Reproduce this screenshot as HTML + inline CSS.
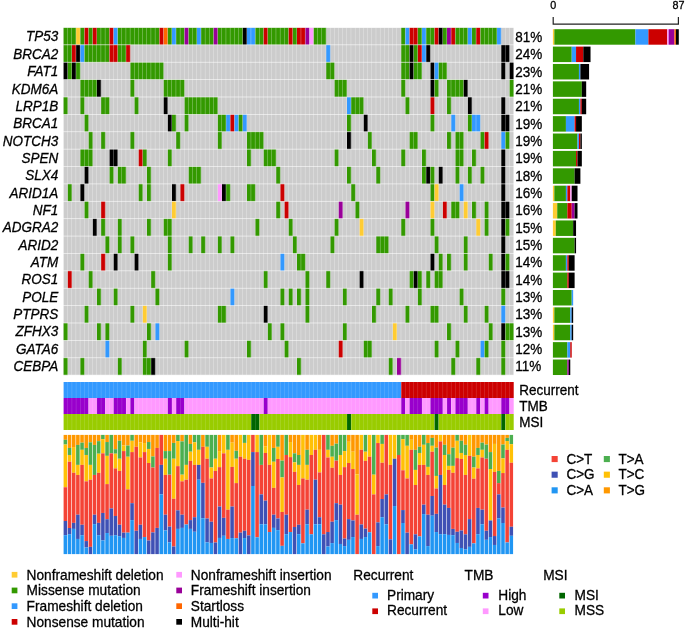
<!DOCTYPE html>
<html><head><meta charset="utf-8"><title>Oncoplot</title><style>html,body{margin:0;padding:0;background:#fff;}svg{display:block;}text{font-family:'Liberation Sans', Arial, Helvetica, sans-serif;fill:#000;stroke:#000;stroke-width:0.28px;}</style></head><body>
<svg width="685" height="628" viewBox="0 0 685 628">
<rect width="685" height="628" fill="#fff"/>
<g id="grid"><rect x="63.6" y="27.45" width="450.1" height="347.7" fill="#CCCCCC"/><rect x="63.6" y="27.45" width="12.5" height="17.39" fill="#339900"/><rect x="76.1" y="27.45" width="4.17" height="17.39" fill="#FFCC33"/><rect x="80.27" y="27.45" width="4.17" height="17.39" fill="#339900"/><rect x="84.44" y="27.45" width="4.17" height="17.39" fill="#CC0000"/><rect x="88.61" y="27.45" width="4.17" height="17.39" fill="#339900"/><rect x="92.77" y="27.45" width="4.17" height="17.39" fill="#CC0000"/><rect x="96.94" y="27.45" width="12.5" height="17.39" fill="#339900"/><rect x="109.44" y="27.45" width="4.17" height="17.39" fill="#CC0000"/><rect x="113.61" y="27.45" width="4.17" height="17.39" fill="#3399FF"/><rect x="117.78" y="27.45" width="41.68" height="17.39" fill="#339900"/><rect x="159.45" y="27.45" width="4.17" height="17.39" fill="#CC0000"/><rect x="163.62" y="27.45" width="4.17" height="17.39" fill="#FF6600"/><rect x="167.79" y="27.45" width="4.17" height="17.39" fill="#339900"/><rect x="171.96" y="27.45" width="4.17" height="17.39" fill="#3399FF"/><rect x="176.12" y="27.45" width="8.34" height="17.39" fill="#339900"/><rect x="184.46" y="27.45" width="4.17" height="17.39" fill="#990099"/><rect x="188.63" y="27.45" width="8.34" height="17.39" fill="#339900"/><rect x="196.96" y="27.45" width="4.17" height="17.39" fill="#3399FF"/><rect x="201.13" y="27.45" width="12.5" height="17.39" fill="#339900"/><rect x="213.63" y="27.45" width="4.17" height="17.39" fill="#990099"/><rect x="217.8" y="27.45" width="25.01" height="17.39" fill="#339900"/><rect x="242.81" y="27.45" width="4.17" height="17.39" fill="#000000"/><rect x="246.97" y="27.45" width="8.34" height="17.39" fill="#3399FF"/><rect x="255.31" y="27.45" width="8.34" height="17.39" fill="#339900"/><rect x="263.64" y="27.45" width="4.17" height="17.39" fill="#CC0000"/><rect x="267.81" y="27.45" width="20.84" height="17.39" fill="#339900"/><rect x="288.65" y="27.45" width="4.17" height="17.39" fill="#CC0000"/><rect x="292.82" y="27.45" width="4.17" height="17.39" fill="#339900"/><rect x="296.99" y="27.45" width="8.34" height="17.39" fill="#CC0000"/><rect x="305.32" y="27.45" width="4.17" height="17.39" fill="#990099"/><rect x="309.49" y="27.45" width="4.17" height="17.39" fill="#FF99FF"/><rect x="313.66" y="27.45" width="12.5" height="17.39" fill="#339900"/><rect x="401.18" y="27.45" width="4.17" height="17.39" fill="#339900"/><rect x="405.34" y="27.45" width="4.17" height="17.39" fill="#3399FF"/><rect x="409.51" y="27.45" width="8.34" height="17.39" fill="#CC0000"/><rect x="417.85" y="27.45" width="4.17" height="17.39" fill="#339900"/><rect x="422.01" y="27.45" width="4.17" height="17.39" fill="#3399FF"/><rect x="426.18" y="27.45" width="8.34" height="17.39" fill="#339900"/><rect x="434.52" y="27.45" width="4.17" height="17.39" fill="#CC0000"/><rect x="438.68" y="27.45" width="4.17" height="17.39" fill="#000000"/><rect x="442.85" y="27.45" width="4.17" height="17.39" fill="#339900"/><rect x="447.02" y="27.45" width="4.17" height="17.39" fill="#990099"/><rect x="451.19" y="27.45" width="4.17" height="17.39" fill="#CC0000"/><rect x="455.35" y="27.45" width="12.5" height="17.39" fill="#339900"/><rect x="467.86" y="27.45" width="4.17" height="17.39" fill="#3399FF"/><rect x="472.02" y="27.45" width="4.17" height="17.39" fill="#339900"/><rect x="476.19" y="27.45" width="4.17" height="17.39" fill="#CC0000"/><rect x="480.36" y="27.45" width="16.67" height="17.39" fill="#339900"/><rect x="497.03" y="27.45" width="4.17" height="17.39" fill="#3399FF"/><rect x="63.6" y="44.84" width="8.34" height="17.39" fill="#339900"/><rect x="71.94" y="44.84" width="4.17" height="17.39" fill="#CC0000"/><rect x="76.1" y="44.84" width="4.17" height="17.39" fill="#000000"/><rect x="80.27" y="44.84" width="4.17" height="17.39" fill="#3399FF"/><rect x="84.44" y="44.84" width="25.01" height="17.39" fill="#339900"/><rect x="109.44" y="44.84" width="8.34" height="17.39" fill="#CC0000"/><rect x="117.78" y="44.84" width="8.34" height="17.39" fill="#339900"/><rect x="126.11" y="44.84" width="4.17" height="17.39" fill="#CC0000"/><rect x="326.16" y="44.84" width="4.17" height="17.39" fill="#3399FF"/><rect x="401.18" y="44.84" width="8.34" height="17.39" fill="#339900"/><rect x="409.51" y="44.84" width="4.17" height="17.39" fill="#000000"/><rect x="413.68" y="44.84" width="4.17" height="17.39" fill="#339900"/><rect x="417.85" y="44.84" width="4.17" height="17.39" fill="#CC0000"/><rect x="422.01" y="44.84" width="4.17" height="17.39" fill="#3399FF"/><rect x="426.18" y="44.84" width="4.17" height="17.39" fill="#000000"/><rect x="501.2" y="44.84" width="8.34" height="17.39" fill="#000000"/><rect x="63.6" y="62.22" width="4.17" height="17.39" fill="#000000"/><rect x="67.77" y="62.22" width="4.17" height="17.39" fill="#339900"/><rect x="71.94" y="62.22" width="4.17" height="17.39" fill="#000000"/><rect x="76.1" y="62.22" width="4.17" height="17.39" fill="#339900"/><rect x="130.28" y="62.22" width="33.34" height="17.39" fill="#339900"/><rect x="326.16" y="62.22" width="8.34" height="17.39" fill="#339900"/><rect x="401.18" y="62.22" width="8.34" height="17.39" fill="#339900"/><rect x="409.51" y="62.22" width="4.17" height="17.39" fill="#000000"/><rect x="413.68" y="62.22" width="8.34" height="17.39" fill="#339900"/><rect x="430.35" y="62.22" width="4.17" height="17.39" fill="#000000"/><rect x="434.52" y="62.22" width="4.17" height="17.39" fill="#3399FF"/><rect x="438.68" y="62.22" width="8.34" height="17.39" fill="#339900"/><rect x="501.2" y="62.22" width="4.17" height="17.39" fill="#000000"/><rect x="509.53" y="62.22" width="4.17" height="17.39" fill="#000000"/><rect x="80.27" y="79.61" width="16.67" height="17.39" fill="#339900"/><rect x="96.94" y="79.61" width="4.17" height="17.39" fill="#000000"/><rect x="130.28" y="79.61" width="4.17" height="17.39" fill="#339900"/><rect x="163.62" y="79.61" width="20.84" height="17.39" fill="#339900"/><rect x="334.49" y="79.61" width="12.5" height="17.39" fill="#339900"/><rect x="401.18" y="79.61" width="4.17" height="17.39" fill="#339900"/><rect x="430.35" y="79.61" width="4.17" height="17.39" fill="#000000"/><rect x="434.52" y="79.61" width="4.17" height="17.39" fill="#339900"/><rect x="447.02" y="79.61" width="16.67" height="17.39" fill="#339900"/><rect x="463.69" y="79.61" width="4.17" height="17.39" fill="#000000"/><rect x="509.53" y="79.61" width="4.17" height="17.39" fill="#339900"/><rect x="63.6" y="96.99" width="4.17" height="17.39" fill="#339900"/><rect x="80.27" y="96.99" width="4.17" height="17.39" fill="#339900"/><rect x="101.11" y="96.99" width="8.34" height="17.39" fill="#339900"/><rect x="134.45" y="96.99" width="4.17" height="17.39" fill="#339900"/><rect x="163.62" y="96.99" width="4.17" height="17.39" fill="#000000"/><rect x="184.46" y="96.99" width="33.34" height="17.39" fill="#339900"/><rect x="347" y="96.99" width="4.17" height="17.39" fill="#3399FF"/><rect x="351.16" y="96.99" width="12.5" height="17.39" fill="#339900"/><rect x="405.34" y="96.99" width="4.17" height="17.39" fill="#339900"/><rect x="430.35" y="96.99" width="4.17" height="17.39" fill="#CC0000"/><rect x="447.02" y="96.99" width="4.17" height="17.39" fill="#339900"/><rect x="467.86" y="96.99" width="4.17" height="17.39" fill="#000000"/><rect x="501.2" y="96.99" width="4.17" height="17.39" fill="#000000"/><rect x="84.44" y="114.38" width="4.17" height="17.39" fill="#339900"/><rect x="167.79" y="114.38" width="4.17" height="17.39" fill="#000000"/><rect x="171.96" y="114.38" width="4.17" height="17.39" fill="#339900"/><rect x="184.46" y="114.38" width="4.17" height="17.39" fill="#339900"/><rect x="217.8" y="114.38" width="8.34" height="17.39" fill="#339900"/><rect x="226.14" y="114.38" width="4.17" height="17.39" fill="#3399FF"/><rect x="230.3" y="114.38" width="4.17" height="17.39" fill="#CC0000"/><rect x="234.47" y="114.38" width="4.17" height="17.39" fill="#3399FF"/><rect x="238.64" y="114.38" width="4.17" height="17.39" fill="#339900"/><rect x="242.81" y="114.38" width="4.17" height="17.39" fill="#3399FF"/><rect x="347" y="114.38" width="4.17" height="17.39" fill="#339900"/><rect x="363.67" y="114.38" width="4.17" height="17.39" fill="#000000"/><rect x="430.35" y="114.38" width="4.17" height="17.39" fill="#339900"/><rect x="451.19" y="114.38" width="4.17" height="17.39" fill="#3399FF"/><rect x="467.86" y="114.38" width="4.17" height="17.39" fill="#339900"/><rect x="472.02" y="114.38" width="8.34" height="17.39" fill="#3399FF"/><rect x="501.2" y="114.38" width="8.34" height="17.39" fill="#000000"/><rect x="88.61" y="131.76" width="4.17" height="17.39" fill="#339900"/><rect x="101.11" y="131.76" width="4.17" height="17.39" fill="#339900"/><rect x="130.28" y="131.76" width="4.17" height="17.39" fill="#339900"/><rect x="176.12" y="131.76" width="4.17" height="17.39" fill="#339900"/><rect x="217.8" y="131.76" width="4.17" height="17.39" fill="#339900"/><rect x="246.97" y="131.76" width="16.67" height="17.39" fill="#339900"/><rect x="347" y="131.76" width="4.17" height="17.39" fill="#000000"/><rect x="367.83" y="131.76" width="4.17" height="17.39" fill="#339900"/><rect x="409.51" y="131.76" width="8.34" height="17.39" fill="#339900"/><rect x="447.02" y="131.76" width="4.17" height="17.39" fill="#339900"/><rect x="455.35" y="131.76" width="8.34" height="17.39" fill="#339900"/><rect x="480.36" y="131.76" width="4.17" height="17.39" fill="#339900"/><rect x="484.53" y="131.76" width="4.17" height="17.39" fill="#CC0000"/><rect x="501.2" y="131.76" width="4.17" height="17.39" fill="#3399FF"/><rect x="505.36" y="131.76" width="4.17" height="17.39" fill="#339900"/><rect x="80.27" y="149.15" width="12.5" height="17.39" fill="#339900"/><rect x="109.44" y="149.15" width="8.34" height="17.39" fill="#000000"/><rect x="138.62" y="149.15" width="4.17" height="17.39" fill="#CC0000"/><rect x="142.78" y="149.15" width="4.17" height="17.39" fill="#339900"/><rect x="167.79" y="149.15" width="4.17" height="17.39" fill="#339900"/><rect x="246.97" y="149.15" width="4.17" height="17.39" fill="#339900"/><rect x="263.64" y="149.15" width="12.5" height="17.39" fill="#339900"/><rect x="334.49" y="149.15" width="4.17" height="17.39" fill="#339900"/><rect x="372" y="149.15" width="4.17" height="17.39" fill="#339900"/><rect x="401.18" y="149.15" width="4.17" height="17.39" fill="#339900"/><rect x="422.01" y="149.15" width="4.17" height="17.39" fill="#339900"/><rect x="455.35" y="149.15" width="8.34" height="17.39" fill="#339900"/><rect x="472.02" y="149.15" width="4.17" height="17.39" fill="#339900"/><rect x="501.2" y="149.15" width="4.17" height="17.39" fill="#000000"/><rect x="84.44" y="166.53" width="4.17" height="17.39" fill="#000000"/><rect x="109.44" y="166.53" width="4.17" height="17.39" fill="#339900"/><rect x="117.78" y="166.53" width="8.34" height="17.39" fill="#339900"/><rect x="146.95" y="166.53" width="4.17" height="17.39" fill="#339900"/><rect x="188.63" y="166.53" width="12.5" height="17.39" fill="#339900"/><rect x="276.15" y="166.53" width="4.17" height="17.39" fill="#339900"/><rect x="347" y="166.53" width="4.17" height="17.39" fill="#339900"/><rect x="376.17" y="166.53" width="4.17" height="17.39" fill="#339900"/><rect x="422.01" y="166.53" width="4.17" height="17.39" fill="#339900"/><rect x="426.18" y="166.53" width="4.17" height="17.39" fill="#000000"/><rect x="430.35" y="166.53" width="4.17" height="17.39" fill="#339900"/><rect x="438.68" y="166.53" width="4.17" height="17.39" fill="#000000"/><rect x="455.35" y="166.53" width="4.17" height="17.39" fill="#339900"/><rect x="467.86" y="166.53" width="4.17" height="17.39" fill="#339900"/><rect x="480.36" y="166.53" width="4.17" height="17.39" fill="#339900"/><rect x="501.2" y="166.53" width="4.17" height="17.39" fill="#000000"/><rect x="67.77" y="183.91" width="4.17" height="17.39" fill="#339900"/><rect x="80.27" y="183.91" width="4.17" height="17.39" fill="#000000"/><rect x="138.62" y="183.91" width="4.17" height="17.39" fill="#339900"/><rect x="146.95" y="183.91" width="4.17" height="17.39" fill="#339900"/><rect x="171.96" y="183.91" width="4.17" height="17.39" fill="#000000"/><rect x="180.29" y="183.91" width="4.17" height="17.39" fill="#CC0000"/><rect x="217.8" y="183.91" width="4.17" height="17.39" fill="#FF99FF"/><rect x="221.97" y="183.91" width="4.17" height="17.39" fill="#000000"/><rect x="226.14" y="183.91" width="4.17" height="17.39" fill="#339900"/><rect x="246.97" y="183.91" width="8.34" height="17.39" fill="#339900"/><rect x="280.31" y="183.91" width="4.17" height="17.39" fill="#CC0000"/><rect x="351.16" y="183.91" width="4.17" height="17.39" fill="#339900"/><rect x="430.35" y="183.91" width="4.17" height="17.39" fill="#339900"/><rect x="434.52" y="183.91" width="4.17" height="17.39" fill="#FFCC33"/><rect x="459.52" y="183.91" width="4.17" height="17.39" fill="#3399FF"/><rect x="501.2" y="183.91" width="4.17" height="17.39" fill="#000000"/><rect x="84.44" y="201.3" width="4.17" height="17.39" fill="#339900"/><rect x="101.11" y="201.3" width="4.17" height="17.39" fill="#CC0000"/><rect x="171.96" y="201.3" width="4.17" height="17.39" fill="#FFCC33"/><rect x="276.15" y="201.3" width="4.17" height="17.39" fill="#339900"/><rect x="284.48" y="201.3" width="4.17" height="17.39" fill="#CC0000"/><rect x="338.66" y="201.3" width="4.17" height="17.39" fill="#990099"/><rect x="355.33" y="201.3" width="4.17" height="17.39" fill="#339900"/><rect x="405.34" y="201.3" width="4.17" height="17.39" fill="#990099"/><rect x="430.35" y="201.3" width="4.17" height="17.39" fill="#FFCC33"/><rect x="442.85" y="201.3" width="4.17" height="17.39" fill="#CC0000"/><rect x="451.19" y="201.3" width="8.34" height="17.39" fill="#339900"/><rect x="463.69" y="201.3" width="4.17" height="17.39" fill="#FFCC33"/><rect x="472.02" y="201.3" width="4.17" height="17.39" fill="#339900"/><rect x="484.53" y="201.3" width="4.17" height="17.39" fill="#339900"/><rect x="501.2" y="201.3" width="8.34" height="17.39" fill="#000000"/><rect x="92.77" y="218.69" width="4.17" height="17.39" fill="#000000"/><rect x="101.11" y="218.69" width="4.17" height="17.39" fill="#339900"/><rect x="117.78" y="218.69" width="4.17" height="17.39" fill="#339900"/><rect x="146.95" y="218.69" width="4.17" height="17.39" fill="#339900"/><rect x="163.62" y="218.69" width="8.34" height="17.39" fill="#339900"/><rect x="255.31" y="218.69" width="4.17" height="17.39" fill="#339900"/><rect x="288.65" y="218.69" width="4.17" height="17.39" fill="#339900"/><rect x="334.49" y="218.69" width="4.17" height="17.39" fill="#339900"/><rect x="359.5" y="218.69" width="4.17" height="17.39" fill="#FFCC33"/><rect x="401.18" y="218.69" width="4.17" height="17.39" fill="#339900"/><rect x="430.35" y="218.69" width="4.17" height="17.39" fill="#339900"/><rect x="476.19" y="218.69" width="4.17" height="17.39" fill="#FFCC33"/><rect x="484.53" y="218.69" width="4.17" height="17.39" fill="#339900"/><rect x="501.2" y="218.69" width="4.17" height="17.39" fill="#000000"/><rect x="505.36" y="218.69" width="4.17" height="17.39" fill="#339900"/><rect x="105.28" y="236.07" width="4.17" height="17.39" fill="#339900"/><rect x="117.78" y="236.07" width="4.17" height="17.39" fill="#339900"/><rect x="130.28" y="236.07" width="4.17" height="17.39" fill="#339900"/><rect x="167.79" y="236.07" width="4.17" height="17.39" fill="#339900"/><rect x="188.63" y="236.07" width="4.17" height="17.39" fill="#339900"/><rect x="201.13" y="236.07" width="4.17" height="17.39" fill="#339900"/><rect x="217.8" y="236.07" width="4.17" height="17.39" fill="#339900"/><rect x="230.3" y="236.07" width="4.17" height="17.39" fill="#339900"/><rect x="292.82" y="236.07" width="4.17" height="17.39" fill="#339900"/><rect x="330.33" y="236.07" width="4.17" height="17.39" fill="#339900"/><rect x="376.17" y="236.07" width="12.5" height="17.39" fill="#339900"/><rect x="434.52" y="236.07" width="4.17" height="17.39" fill="#339900"/><rect x="463.69" y="236.07" width="4.17" height="17.39" fill="#339900"/><rect x="501.2" y="236.07" width="4.17" height="17.39" fill="#000000"/><rect x="80.27" y="253.46" width="4.17" height="17.39" fill="#339900"/><rect x="101.11" y="253.46" width="4.17" height="17.39" fill="#CC0000"/><rect x="113.61" y="253.46" width="4.17" height="17.39" fill="#000000"/><rect x="134.45" y="253.46" width="4.17" height="17.39" fill="#000000"/><rect x="167.79" y="253.46" width="4.17" height="17.39" fill="#339900"/><rect x="280.31" y="253.46" width="4.17" height="17.39" fill="#3399FF"/><rect x="296.99" y="253.46" width="8.34" height="17.39" fill="#339900"/><rect x="430.35" y="253.46" width="4.17" height="17.39" fill="#000000"/><rect x="438.68" y="253.46" width="4.17" height="17.39" fill="#339900"/><rect x="447.02" y="253.46" width="4.17" height="17.39" fill="#339900"/><rect x="463.69" y="253.46" width="4.17" height="17.39" fill="#339900"/><rect x="488.69" y="253.46" width="4.17" height="17.39" fill="#339900"/><rect x="501.2" y="253.46" width="4.17" height="17.39" fill="#000000"/><rect x="505.36" y="253.46" width="4.17" height="17.39" fill="#339900"/><rect x="67.77" y="270.84" width="4.17" height="17.39" fill="#CC0000"/><rect x="88.61" y="270.84" width="4.17" height="17.39" fill="#339900"/><rect x="151.12" y="270.84" width="4.17" height="17.39" fill="#339900"/><rect x="263.64" y="270.84" width="4.17" height="17.39" fill="#339900"/><rect x="305.32" y="270.84" width="4.17" height="17.39" fill="#339900"/><rect x="326.16" y="270.84" width="4.17" height="17.39" fill="#339900"/><rect x="359.5" y="270.84" width="4.17" height="17.39" fill="#000000"/><rect x="409.51" y="270.84" width="4.17" height="17.39" fill="#339900"/><rect x="413.68" y="270.84" width="4.17" height="17.39" fill="#000000"/><rect x="417.85" y="270.84" width="4.17" height="17.39" fill="#339900"/><rect x="426.18" y="270.84" width="4.17" height="17.39" fill="#339900"/><rect x="434.52" y="270.84" width="8.34" height="17.39" fill="#339900"/><rect x="501.2" y="270.84" width="8.34" height="17.39" fill="#000000"/><rect x="96.94" y="288.23" width="4.17" height="17.39" fill="#339900"/><rect x="113.61" y="288.23" width="4.17" height="17.39" fill="#339900"/><rect x="155.29" y="288.23" width="4.17" height="17.39" fill="#339900"/><rect x="230.3" y="288.23" width="4.17" height="17.39" fill="#3399FF"/><rect x="280.31" y="288.23" width="4.17" height="17.39" fill="#339900"/><rect x="288.65" y="288.23" width="4.17" height="17.39" fill="#339900"/><rect x="296.99" y="288.23" width="4.17" height="17.39" fill="#339900"/><rect x="305.32" y="288.23" width="4.17" height="17.39" fill="#339900"/><rect x="342.83" y="288.23" width="4.17" height="17.39" fill="#339900"/><rect x="376.17" y="288.23" width="4.17" height="17.39" fill="#339900"/><rect x="388.67" y="288.23" width="4.17" height="17.39" fill="#339900"/><rect x="417.85" y="288.23" width="4.17" height="17.39" fill="#339900"/><rect x="459.52" y="288.23" width="4.17" height="17.39" fill="#339900"/><rect x="501.2" y="288.23" width="4.17" height="17.39" fill="#339900"/><rect x="84.44" y="305.61" width="4.17" height="17.39" fill="#339900"/><rect x="130.28" y="305.61" width="4.17" height="17.39" fill="#339900"/><rect x="142.78" y="305.61" width="4.17" height="17.39" fill="#FFCC33"/><rect x="217.8" y="305.61" width="8.34" height="17.39" fill="#339900"/><rect x="263.64" y="305.61" width="4.17" height="17.39" fill="#000000"/><rect x="305.32" y="305.61" width="4.17" height="17.39" fill="#339900"/><rect x="372" y="305.61" width="4.17" height="17.39" fill="#339900"/><rect x="405.34" y="305.61" width="4.17" height="17.39" fill="#339900"/><rect x="430.35" y="305.61" width="8.34" height="17.39" fill="#339900"/><rect x="463.69" y="305.61" width="4.17" height="17.39" fill="#339900"/><rect x="484.53" y="305.61" width="4.17" height="17.39" fill="#339900"/><rect x="501.2" y="305.61" width="4.17" height="17.39" fill="#3399FF"/><rect x="63.6" y="323" width="4.17" height="17.39" fill="#339900"/><rect x="96.94" y="323" width="4.17" height="17.39" fill="#339900"/><rect x="105.28" y="323" width="4.17" height="17.39" fill="#339900"/><rect x="146.95" y="323" width="4.17" height="17.39" fill="#339900"/><rect x="155.29" y="323" width="4.17" height="17.39" fill="#3399FF"/><rect x="267.81" y="323" width="4.17" height="17.39" fill="#339900"/><rect x="280.31" y="323" width="4.17" height="17.39" fill="#339900"/><rect x="342.83" y="323" width="4.17" height="17.39" fill="#339900"/><rect x="392.84" y="323" width="4.17" height="17.39" fill="#FFCC33"/><rect x="447.02" y="323" width="4.17" height="17.39" fill="#339900"/><rect x="488.69" y="323" width="4.17" height="17.39" fill="#339900"/><rect x="501.2" y="323" width="4.17" height="17.39" fill="#000000"/><rect x="505.36" y="323" width="8.34" height="17.39" fill="#339900"/><rect x="105.28" y="340.38" width="4.17" height="17.39" fill="#3399FF"/><rect x="142.78" y="340.38" width="4.17" height="17.39" fill="#339900"/><rect x="184.46" y="340.38" width="4.17" height="17.39" fill="#339900"/><rect x="246.97" y="340.38" width="4.17" height="17.39" fill="#339900"/><rect x="284.48" y="340.38" width="4.17" height="17.39" fill="#339900"/><rect x="338.66" y="340.38" width="4.17" height="17.39" fill="#CC0000"/><rect x="363.67" y="340.38" width="8.34" height="17.39" fill="#339900"/><rect x="434.52" y="340.38" width="4.17" height="17.39" fill="#339900"/><rect x="455.35" y="340.38" width="4.17" height="17.39" fill="#339900"/><rect x="480.36" y="340.38" width="4.17" height="17.39" fill="#3399FF"/><rect x="484.53" y="340.38" width="4.17" height="17.39" fill="#339900"/><rect x="501.2" y="340.38" width="4.17" height="17.39" fill="#339900"/><rect x="63.6" y="357.77" width="4.17" height="17.39" fill="#339900"/><rect x="80.27" y="357.77" width="4.17" height="17.39" fill="#339900"/><rect x="117.78" y="357.77" width="4.17" height="17.39" fill="#339900"/><rect x="142.78" y="357.77" width="8.34" height="17.39" fill="#339900"/><rect x="151.12" y="357.77" width="4.17" height="17.39" fill="#000000"/><rect x="296.99" y="357.77" width="4.17" height="17.39" fill="#339900"/><rect x="388.67" y="357.77" width="4.17" height="17.39" fill="#339900"/><rect x="397.01" y="357.77" width="4.17" height="17.39" fill="#990099"/><rect x="451.19" y="357.77" width="4.17" height="17.39" fill="#339900"/><rect x="476.19" y="357.77" width="4.17" height="17.39" fill="#339900"/><rect x="501.2" y="357.77" width="4.17" height="17.39" fill="#339900"/><rect x="67.39" y="27.45" width="0.38" height="347.7" fill="#fff" fill-opacity="0.7"/><rect x="71.56" y="27.45" width="0.38" height="347.7" fill="#fff" fill-opacity="0.7"/><rect x="75.72" y="27.45" width="0.38" height="347.7" fill="#fff" fill-opacity="0.7"/><rect x="79.89" y="27.45" width="0.38" height="347.7" fill="#fff" fill-opacity="0.7"/><rect x="84.06" y="27.45" width="0.38" height="347.7" fill="#fff" fill-opacity="0.7"/><rect x="88.23" y="27.45" width="0.38" height="347.7" fill="#fff" fill-opacity="0.7"/><rect x="92.39" y="27.45" width="0.38" height="347.7" fill="#fff" fill-opacity="0.7"/><rect x="96.56" y="27.45" width="0.38" height="347.7" fill="#fff" fill-opacity="0.7"/><rect x="100.73" y="27.45" width="0.38" height="347.7" fill="#fff" fill-opacity="0.7"/><rect x="104.9" y="27.45" width="0.38" height="347.7" fill="#fff" fill-opacity="0.7"/><rect x="109.06" y="27.45" width="0.38" height="347.7" fill="#fff" fill-opacity="0.7"/><rect x="113.23" y="27.45" width="0.38" height="347.7" fill="#fff" fill-opacity="0.7"/><rect x="117.4" y="27.45" width="0.38" height="347.7" fill="#fff" fill-opacity="0.7"/><rect x="121.57" y="27.45" width="0.38" height="347.7" fill="#fff" fill-opacity="0.7"/><rect x="125.73" y="27.45" width="0.38" height="347.7" fill="#fff" fill-opacity="0.7"/><rect x="129.9" y="27.45" width="0.38" height="347.7" fill="#fff" fill-opacity="0.7"/><rect x="134.07" y="27.45" width="0.38" height="347.7" fill="#fff" fill-opacity="0.7"/><rect x="138.24" y="27.45" width="0.38" height="347.7" fill="#fff" fill-opacity="0.7"/><rect x="142.4" y="27.45" width="0.38" height="347.7" fill="#fff" fill-opacity="0.7"/><rect x="146.57" y="27.45" width="0.38" height="347.7" fill="#fff" fill-opacity="0.7"/><rect x="150.74" y="27.45" width="0.38" height="347.7" fill="#fff" fill-opacity="0.7"/><rect x="154.91" y="27.45" width="0.38" height="347.7" fill="#fff" fill-opacity="0.7"/><rect x="159.07" y="27.45" width="0.38" height="347.7" fill="#fff" fill-opacity="0.7"/><rect x="163.24" y="27.45" width="0.38" height="347.7" fill="#fff" fill-opacity="0.7"/><rect x="167.41" y="27.45" width="0.38" height="347.7" fill="#fff" fill-opacity="0.7"/><rect x="171.58" y="27.45" width="0.38" height="347.7" fill="#fff" fill-opacity="0.7"/><rect x="175.75" y="27.45" width="0.38" height="347.7" fill="#fff" fill-opacity="0.7"/><rect x="179.91" y="27.45" width="0.38" height="347.7" fill="#fff" fill-opacity="0.7"/><rect x="184.08" y="27.45" width="0.38" height="347.7" fill="#fff" fill-opacity="0.7"/><rect x="188.25" y="27.45" width="0.38" height="347.7" fill="#fff" fill-opacity="0.7"/><rect x="192.42" y="27.45" width="0.38" height="347.7" fill="#fff" fill-opacity="0.7"/><rect x="196.58" y="27.45" width="0.38" height="347.7" fill="#fff" fill-opacity="0.7"/><rect x="200.75" y="27.45" width="0.38" height="347.7" fill="#fff" fill-opacity="0.7"/><rect x="204.92" y="27.45" width="0.38" height="347.7" fill="#fff" fill-opacity="0.7"/><rect x="209.09" y="27.45" width="0.38" height="347.7" fill="#fff" fill-opacity="0.7"/><rect x="213.25" y="27.45" width="0.38" height="347.7" fill="#fff" fill-opacity="0.7"/><rect x="217.42" y="27.45" width="0.38" height="347.7" fill="#fff" fill-opacity="0.7"/><rect x="221.59" y="27.45" width="0.38" height="347.7" fill="#fff" fill-opacity="0.7"/><rect x="225.76" y="27.45" width="0.38" height="347.7" fill="#fff" fill-opacity="0.7"/><rect x="229.92" y="27.45" width="0.38" height="347.7" fill="#fff" fill-opacity="0.7"/><rect x="234.09" y="27.45" width="0.38" height="347.7" fill="#fff" fill-opacity="0.7"/><rect x="238.26" y="27.45" width="0.38" height="347.7" fill="#fff" fill-opacity="0.7"/><rect x="242.43" y="27.45" width="0.38" height="347.7" fill="#fff" fill-opacity="0.7"/><rect x="246.59" y="27.45" width="0.38" height="347.7" fill="#fff" fill-opacity="0.7"/><rect x="250.76" y="27.45" width="0.38" height="347.7" fill="#fff" fill-opacity="0.7"/><rect x="254.93" y="27.45" width="0.38" height="347.7" fill="#fff" fill-opacity="0.7"/><rect x="259.1" y="27.45" width="0.38" height="347.7" fill="#fff" fill-opacity="0.7"/><rect x="263.26" y="27.45" width="0.38" height="347.7" fill="#fff" fill-opacity="0.7"/><rect x="267.43" y="27.45" width="0.38" height="347.7" fill="#fff" fill-opacity="0.7"/><rect x="271.6" y="27.45" width="0.38" height="347.7" fill="#fff" fill-opacity="0.7"/><rect x="275.77" y="27.45" width="0.38" height="347.7" fill="#fff" fill-opacity="0.7"/><rect x="279.93" y="27.45" width="0.38" height="347.7" fill="#fff" fill-opacity="0.7"/><rect x="284.1" y="27.45" width="0.38" height="347.7" fill="#fff" fill-opacity="0.7"/><rect x="288.27" y="27.45" width="0.38" height="347.7" fill="#fff" fill-opacity="0.7"/><rect x="292.44" y="27.45" width="0.38" height="347.7" fill="#fff" fill-opacity="0.7"/><rect x="296.61" y="27.45" width="0.38" height="347.7" fill="#fff" fill-opacity="0.7"/><rect x="300.77" y="27.45" width="0.38" height="347.7" fill="#fff" fill-opacity="0.7"/><rect x="304.94" y="27.45" width="0.38" height="347.7" fill="#fff" fill-opacity="0.7"/><rect x="309.11" y="27.45" width="0.38" height="347.7" fill="#fff" fill-opacity="0.7"/><rect x="313.28" y="27.45" width="0.38" height="347.7" fill="#fff" fill-opacity="0.7"/><rect x="317.44" y="27.45" width="0.38" height="347.7" fill="#fff" fill-opacity="0.7"/><rect x="321.61" y="27.45" width="0.38" height="347.7" fill="#fff" fill-opacity="0.7"/><rect x="325.78" y="27.45" width="0.38" height="347.7" fill="#fff" fill-opacity="0.7"/><rect x="329.95" y="27.45" width="0.38" height="347.7" fill="#fff" fill-opacity="0.7"/><rect x="334.11" y="27.45" width="0.38" height="347.7" fill="#fff" fill-opacity="0.7"/><rect x="338.28" y="27.45" width="0.38" height="347.7" fill="#fff" fill-opacity="0.7"/><rect x="342.45" y="27.45" width="0.38" height="347.7" fill="#fff" fill-opacity="0.7"/><rect x="346.62" y="27.45" width="0.38" height="347.7" fill="#fff" fill-opacity="0.7"/><rect x="350.78" y="27.45" width="0.38" height="347.7" fill="#fff" fill-opacity="0.7"/><rect x="354.95" y="27.45" width="0.38" height="347.7" fill="#fff" fill-opacity="0.7"/><rect x="359.12" y="27.45" width="0.38" height="347.7" fill="#fff" fill-opacity="0.7"/><rect x="363.29" y="27.45" width="0.38" height="347.7" fill="#fff" fill-opacity="0.7"/><rect x="367.45" y="27.45" width="0.38" height="347.7" fill="#fff" fill-opacity="0.7"/><rect x="371.62" y="27.45" width="0.38" height="347.7" fill="#fff" fill-opacity="0.7"/><rect x="375.79" y="27.45" width="0.38" height="347.7" fill="#fff" fill-opacity="0.7"/><rect x="379.96" y="27.45" width="0.38" height="347.7" fill="#fff" fill-opacity="0.7"/><rect x="384.12" y="27.45" width="0.38" height="347.7" fill="#fff" fill-opacity="0.7"/><rect x="388.29" y="27.45" width="0.38" height="347.7" fill="#fff" fill-opacity="0.7"/><rect x="392.46" y="27.45" width="0.38" height="347.7" fill="#fff" fill-opacity="0.7"/><rect x="396.63" y="27.45" width="0.38" height="347.7" fill="#fff" fill-opacity="0.7"/><rect x="400.8" y="27.45" width="0.38" height="347.7" fill="#fff" fill-opacity="0.7"/><rect x="404.96" y="27.45" width="0.38" height="347.7" fill="#fff" fill-opacity="0.7"/><rect x="409.13" y="27.45" width="0.38" height="347.7" fill="#fff" fill-opacity="0.7"/><rect x="413.3" y="27.45" width="0.38" height="347.7" fill="#fff" fill-opacity="0.7"/><rect x="417.47" y="27.45" width="0.38" height="347.7" fill="#fff" fill-opacity="0.7"/><rect x="421.63" y="27.45" width="0.38" height="347.7" fill="#fff" fill-opacity="0.7"/><rect x="425.8" y="27.45" width="0.38" height="347.7" fill="#fff" fill-opacity="0.7"/><rect x="429.97" y="27.45" width="0.38" height="347.7" fill="#fff" fill-opacity="0.7"/><rect x="434.14" y="27.45" width="0.38" height="347.7" fill="#fff" fill-opacity="0.7"/><rect x="438.3" y="27.45" width="0.38" height="347.7" fill="#fff" fill-opacity="0.7"/><rect x="442.47" y="27.45" width="0.38" height="347.7" fill="#fff" fill-opacity="0.7"/><rect x="446.64" y="27.45" width="0.38" height="347.7" fill="#fff" fill-opacity="0.7"/><rect x="450.81" y="27.45" width="0.38" height="347.7" fill="#fff" fill-opacity="0.7"/><rect x="454.97" y="27.45" width="0.38" height="347.7" fill="#fff" fill-opacity="0.7"/><rect x="459.14" y="27.45" width="0.38" height="347.7" fill="#fff" fill-opacity="0.7"/><rect x="463.31" y="27.45" width="0.38" height="347.7" fill="#fff" fill-opacity="0.7"/><rect x="467.48" y="27.45" width="0.38" height="347.7" fill="#fff" fill-opacity="0.7"/><rect x="471.64" y="27.45" width="0.38" height="347.7" fill="#fff" fill-opacity="0.7"/><rect x="475.81" y="27.45" width="0.38" height="347.7" fill="#fff" fill-opacity="0.7"/><rect x="479.98" y="27.45" width="0.38" height="347.7" fill="#fff" fill-opacity="0.7"/><rect x="484.15" y="27.45" width="0.38" height="347.7" fill="#fff" fill-opacity="0.7"/><rect x="488.31" y="27.45" width="0.38" height="347.7" fill="#fff" fill-opacity="0.7"/><rect x="492.48" y="27.45" width="0.38" height="347.7" fill="#fff" fill-opacity="0.7"/><rect x="496.65" y="27.45" width="0.38" height="347.7" fill="#fff" fill-opacity="0.7"/><rect x="500.82" y="27.45" width="0.38" height="347.7" fill="#fff" fill-opacity="0.7"/><rect x="504.98" y="27.45" width="0.38" height="347.7" fill="#fff" fill-opacity="0.7"/><rect x="509.15" y="27.45" width="0.38" height="347.7" fill="#fff" fill-opacity="0.7"/><rect x="513.32" y="27.45" width="0.38" height="347.7" fill="#fff" fill-opacity="0.7"/><rect x="63.1" y="27.1" width="451.1" height="0.7" fill="#fff" fill-opacity="1"/><rect x="63.1" y="44.48" width="451.1" height="0.7" fill="#fff" fill-opacity="0.8"/><rect x="63.1" y="61.87" width="451.1" height="0.7" fill="#fff" fill-opacity="0.8"/><rect x="63.1" y="79.26" width="451.1" height="0.7" fill="#fff" fill-opacity="0.8"/><rect x="63.1" y="96.64" width="451.1" height="0.7" fill="#fff" fill-opacity="0.8"/><rect x="63.1" y="114.03" width="451.1" height="0.7" fill="#fff" fill-opacity="0.8"/><rect x="63.1" y="131.41" width="451.1" height="0.7" fill="#fff" fill-opacity="0.8"/><rect x="63.1" y="148.8" width="451.1" height="0.7" fill="#fff" fill-opacity="0.8"/><rect x="63.1" y="166.18" width="451.1" height="0.7" fill="#fff" fill-opacity="0.8"/><rect x="63.1" y="183.56" width="451.1" height="0.7" fill="#fff" fill-opacity="0.8"/><rect x="63.1" y="200.95" width="451.1" height="0.7" fill="#fff" fill-opacity="0.8"/><rect x="63.1" y="218.34" width="451.1" height="0.7" fill="#fff" fill-opacity="0.8"/><rect x="63.1" y="235.72" width="451.1" height="0.7" fill="#fff" fill-opacity="0.8"/><rect x="63.1" y="253.11" width="451.1" height="0.7" fill="#fff" fill-opacity="0.8"/><rect x="63.1" y="270.49" width="451.1" height="0.7" fill="#fff" fill-opacity="0.8"/><rect x="63.1" y="287.88" width="451.1" height="0.7" fill="#fff" fill-opacity="0.8"/><rect x="63.1" y="305.26" width="451.1" height="0.7" fill="#fff" fill-opacity="0.8"/><rect x="63.1" y="322.64" width="451.1" height="0.7" fill="#fff" fill-opacity="0.8"/><rect x="63.1" y="340.03" width="451.1" height="0.7" fill="#fff" fill-opacity="0.8"/><rect x="63.1" y="357.42" width="451.1" height="0.7" fill="#fff" fill-opacity="0.8"/><rect x="63.1" y="374.8" width="451.1" height="0.7" fill="#fff" fill-opacity="1"/></g>
<text transform="translate(58.2 41.45) scale(1 1.05)" font-size="13.5" text-anchor="end" font-style="italic">TP53</text><text transform="translate(515.25 42) scale(1 1.09)" font-size="13.5">81%</text><text transform="translate(58.2 58.81) scale(1 1.05)" font-size="13.5" text-anchor="end" font-style="italic">BRCA2</text><text transform="translate(515.25 59.34) scale(1 1.09)" font-size="13.5">24%</text><text transform="translate(58.2 76.16) scale(1 1.05)" font-size="13.5" text-anchor="end" font-style="italic">FAT1</text><text transform="translate(515.25 76.68) scale(1 1.09)" font-size="13.5">23%</text><text transform="translate(58.2 93.52) scale(1 1.05)" font-size="13.5" text-anchor="end" font-style="italic">KDM6A</text><text transform="translate(515.25 94.02) scale(1 1.09)" font-size="13.5">21%</text><text transform="translate(58.2 110.87) scale(1 1.05)" font-size="13.5" text-anchor="end" font-style="italic">LRP1B</text><text transform="translate(515.25 111.36) scale(1 1.09)" font-size="13.5">21%</text><text transform="translate(58.2 128.23) scale(1 1.05)" font-size="13.5" text-anchor="end" font-style="italic">BRCA1</text><text transform="translate(515.25 128.7) scale(1 1.09)" font-size="13.5">19%</text><text transform="translate(58.2 145.58) scale(1 1.05)" font-size="13.5" text-anchor="end" font-style="italic">NOTCH3</text><text transform="translate(515.25 146.04) scale(1 1.09)" font-size="13.5">19%</text><text transform="translate(58.2 162.94) scale(1 1.05)" font-size="13.5" text-anchor="end" font-style="italic">SPEN</text><text transform="translate(515.25 163.38) scale(1 1.09)" font-size="13.5">19%</text><text transform="translate(58.2 180.29) scale(1 1.05)" font-size="13.5" text-anchor="end" font-style="italic">SLX4</text><text transform="translate(515.25 180.72) scale(1 1.09)" font-size="13.5">18%</text><text transform="translate(58.2 197.64) scale(1 1.05)" font-size="13.5" text-anchor="end" font-style="italic">ARID1A</text><text transform="translate(515.25 198.06) scale(1 1.09)" font-size="13.5">16%</text><text transform="translate(58.2 215) scale(1 1.05)" font-size="13.5" text-anchor="end" font-style="italic">NF1</text><text transform="translate(515.25 215.4) scale(1 1.09)" font-size="13.5">16%</text><text transform="translate(58.2 232.36) scale(1 1.05)" font-size="13.5" text-anchor="end" font-style="italic">ADGRA2</text><text transform="translate(515.25 232.74) scale(1 1.09)" font-size="13.5">15%</text><text transform="translate(58.2 249.71) scale(1 1.05)" font-size="13.5" text-anchor="end" font-style="italic">ARID2</text><text transform="translate(515.25 250.08) scale(1 1.09)" font-size="13.5">15%</text><text transform="translate(58.2 267.06) scale(1 1.05)" font-size="13.5" text-anchor="end" font-style="italic">ATM</text><text transform="translate(515.25 267.42) scale(1 1.09)" font-size="13.5">14%</text><text transform="translate(58.2 284.42) scale(1 1.05)" font-size="13.5" text-anchor="end" font-style="italic">ROS1</text><text transform="translate(515.25 284.76) scale(1 1.09)" font-size="13.5">14%</text><text transform="translate(58.2 301.77) scale(1 1.05)" font-size="13.5" text-anchor="end" font-style="italic">POLE</text><text transform="translate(515.25 302.1) scale(1 1.09)" font-size="13.5">13%</text><text transform="translate(58.2 319.13) scale(1 1.05)" font-size="13.5" text-anchor="end" font-style="italic">PTPRS</text><text transform="translate(515.25 319.44) scale(1 1.09)" font-size="13.5">13%</text><text transform="translate(58.2 336.49) scale(1 1.05)" font-size="13.5" text-anchor="end" font-style="italic">ZFHX3</text><text transform="translate(515.25 336.78) scale(1 1.09)" font-size="13.5">13%</text><text transform="translate(58.2 353.84) scale(1 1.05)" font-size="13.5" text-anchor="end" font-style="italic">GATA6</text><text transform="translate(515.25 354.12) scale(1 1.09)" font-size="13.5">12%</text><text transform="translate(58.2 371.19) scale(1 1.05)" font-size="13.5" text-anchor="end" font-style="italic">CEBPA</text><text transform="translate(515.25 371.46) scale(1 1.09)" font-size="13.5">11%</text><rect x="552.9" y="29.2" width="1.45" height="15.5" fill="#FFCC33"/><rect x="554.35" y="29.2" width="81.04" height="15.5" fill="#339900"/><rect x="635.39" y="29.2" width="13.02" height="15.5" fill="#3399FF"/><rect x="648.41" y="29.2" width="18.81" height="15.5" fill="#CC0000"/><rect x="667.22" y="29.2" width="1.45" height="15.5" fill="#FF99FF"/><rect x="668.67" y="29.2" width="5.79" height="15.5" fill="#990099"/><rect x="674.46" y="29.2" width="1.45" height="15.5" fill="#FF6600"/><rect x="675.91" y="29.2" width="2.89" height="15.5" fill="#000000"/><rect x="552.9" y="46.59" width="18.81" height="15.5" fill="#339900"/><rect x="571.71" y="46.59" width="4.34" height="15.5" fill="#3399FF"/><rect x="576.05" y="46.59" width="7.24" height="15.5" fill="#CC0000"/><rect x="583.29" y="46.59" width="7.24" height="15.5" fill="#000000"/><rect x="552.9" y="63.97" width="26.05" height="15.5" fill="#339900"/><rect x="578.95" y="63.97" width="1.45" height="15.5" fill="#3399FF"/><rect x="580.4" y="63.97" width="8.68" height="15.5" fill="#000000"/><rect x="552.9" y="81.36" width="28.94" height="15.5" fill="#339900"/><rect x="581.84" y="81.36" width="4.34" height="15.5" fill="#000000"/><rect x="552.9" y="98.74" width="26.05" height="15.5" fill="#339900"/><rect x="578.95" y="98.74" width="1.45" height="15.5" fill="#3399FF"/><rect x="580.4" y="98.74" width="1.45" height="15.5" fill="#CC0000"/><rect x="581.84" y="98.74" width="4.34" height="15.5" fill="#000000"/><rect x="552.9" y="116.13" width="13.02" height="15.5" fill="#339900"/><rect x="565.92" y="116.13" width="8.68" height="15.5" fill="#3399FF"/><rect x="574.61" y="116.13" width="1.45" height="15.5" fill="#CC0000"/><rect x="576.05" y="116.13" width="5.79" height="15.5" fill="#000000"/><rect x="552.9" y="133.51" width="24.6" height="15.5" fill="#339900"/><rect x="577.5" y="133.51" width="1.45" height="15.5" fill="#3399FF"/><rect x="578.95" y="133.51" width="1.45" height="15.5" fill="#CC0000"/><rect x="580.4" y="133.51" width="1.45" height="15.5" fill="#000000"/><rect x="552.9" y="150.9" width="23.15" height="15.5" fill="#339900"/><rect x="576.05" y="150.9" width="1.45" height="15.5" fill="#CC0000"/><rect x="577.5" y="150.9" width="4.34" height="15.5" fill="#000000"/><rect x="552.9" y="168.28" width="21.71" height="15.5" fill="#339900"/><rect x="574.61" y="168.28" width="5.79" height="15.5" fill="#000000"/><rect x="552.9" y="185.66" width="1.45" height="15.5" fill="#FFCC33"/><rect x="554.35" y="185.66" width="11.58" height="15.5" fill="#339900"/><rect x="565.92" y="185.66" width="1.45" height="15.5" fill="#3399FF"/><rect x="567.37" y="185.66" width="2.89" height="15.5" fill="#CC0000"/><rect x="570.27" y="185.66" width="1.45" height="15.5" fill="#FF99FF"/><rect x="571.71" y="185.66" width="5.79" height="15.5" fill="#000000"/><rect x="552.9" y="203.05" width="4.34" height="15.5" fill="#FFCC33"/><rect x="557.24" y="203.05" width="10.13" height="15.5" fill="#339900"/><rect x="567.37" y="203.05" width="4.34" height="15.5" fill="#CC0000"/><rect x="571.71" y="203.05" width="2.89" height="15.5" fill="#990099"/><rect x="574.61" y="203.05" width="2.89" height="15.5" fill="#000000"/><rect x="552.9" y="220.44" width="2.89" height="15.5" fill="#FFCC33"/><rect x="555.79" y="220.44" width="17.37" height="15.5" fill="#339900"/><rect x="573.16" y="220.44" width="2.89" height="15.5" fill="#000000"/><rect x="552.9" y="237.82" width="21.71" height="15.5" fill="#339900"/><rect x="574.61" y="237.82" width="1.45" height="15.5" fill="#000000"/><rect x="552.9" y="255.21" width="13.02" height="15.5" fill="#339900"/><rect x="565.92" y="255.21" width="1.45" height="15.5" fill="#3399FF"/><rect x="567.37" y="255.21" width="1.45" height="15.5" fill="#CC0000"/><rect x="568.82" y="255.21" width="5.79" height="15.5" fill="#000000"/><rect x="552.9" y="272.59" width="14.47" height="15.5" fill="#339900"/><rect x="567.37" y="272.59" width="1.45" height="15.5" fill="#CC0000"/><rect x="568.82" y="272.59" width="5.79" height="15.5" fill="#000000"/><rect x="552.9" y="289.98" width="18.81" height="15.5" fill="#339900"/><rect x="571.71" y="289.98" width="1.45" height="15.5" fill="#3399FF"/><rect x="552.9" y="307.36" width="1.45" height="15.5" fill="#FFCC33"/><rect x="554.35" y="307.36" width="15.92" height="15.5" fill="#339900"/><rect x="570.27" y="307.36" width="1.45" height="15.5" fill="#3399FF"/><rect x="571.71" y="307.36" width="1.45" height="15.5" fill="#000000"/><rect x="552.9" y="324.75" width="1.45" height="15.5" fill="#FFCC33"/><rect x="554.35" y="324.75" width="15.92" height="15.5" fill="#339900"/><rect x="570.27" y="324.75" width="1.45" height="15.5" fill="#3399FF"/><rect x="571.71" y="324.75" width="1.45" height="15.5" fill="#000000"/><rect x="552.9" y="342.13" width="14.47" height="15.5" fill="#339900"/><rect x="567.37" y="342.13" width="2.89" height="15.5" fill="#3399FF"/><rect x="570.27" y="342.13" width="1.45" height="15.5" fill="#CC0000"/><rect x="552.9" y="359.52" width="14.47" height="15.5" fill="#339900"/><rect x="567.37" y="359.52" width="1.45" height="15.5" fill="#990099"/><rect x="568.82" y="359.52" width="1.45" height="15.5" fill="#000000"/>
<path d="M553.2 17.1 V24.1 H678.4 V17.1" fill="none" stroke="#222" stroke-width="1.2"/><text transform="translate(553.2 8.9) scale(1 1.09)" font-size="10.8" text-anchor="middle">0</text><text transform="translate(678.4 8.9) scale(1 1.09)" font-size="10.8" text-anchor="middle">87</text><rect x="63.6" y="382" width="337.57" height="16" fill="#3399FF"/><rect x="401.18" y="382" width="112.53" height="16" fill="#CC0000"/><rect x="63.6" y="398" width="25.01" height="16" fill="#9900CC"/><rect x="88.61" y="398" width="8.34" height="16" fill="#FF99FF"/><rect x="96.94" y="398" width="8.34" height="16" fill="#9900CC"/><rect x="105.28" y="398" width="8.34" height="16" fill="#FF99FF"/><rect x="113.61" y="398" width="12.5" height="16" fill="#9900CC"/><rect x="126.11" y="398" width="4.17" height="16" fill="#FF99FF"/><rect x="130.28" y="398" width="4.17" height="16" fill="#9900CC"/><rect x="134.45" y="398" width="33.34" height="16" fill="#FF99FF"/><rect x="167.79" y="398" width="4.17" height="16" fill="#9900CC"/><rect x="171.96" y="398" width="4.17" height="16" fill="#FF99FF"/><rect x="176.12" y="398" width="8.34" height="16" fill="#9900CC"/><rect x="184.46" y="398" width="79.18" height="16" fill="#FF99FF"/><rect x="263.64" y="398" width="4.17" height="16" fill="#9900CC"/><rect x="267.81" y="398" width="133.36" height="16" fill="#FF99FF"/><rect x="401.18" y="398" width="4.17" height="16" fill="#9900CC"/><rect x="405.34" y="398" width="4.17" height="16" fill="#FF99FF"/><rect x="409.51" y="398" width="12.5" height="16" fill="#9900CC"/><rect x="422.01" y="398" width="8.34" height="16" fill="#FF99FF"/><rect x="430.35" y="398" width="12.5" height="16" fill="#9900CC"/><rect x="442.85" y="398" width="4.17" height="16" fill="#FF99FF"/><rect x="447.02" y="398" width="4.17" height="16" fill="#9900CC"/><rect x="451.19" y="398" width="4.17" height="16" fill="#FF99FF"/><rect x="455.35" y="398" width="12.5" height="16" fill="#9900CC"/><rect x="467.86" y="398" width="8.34" height="16" fill="#FF99FF"/><rect x="476.19" y="398" width="4.17" height="16" fill="#9900CC"/><rect x="480.36" y="398" width="4.17" height="16" fill="#FF99FF"/><rect x="484.53" y="398" width="4.17" height="16" fill="#9900CC"/><rect x="488.69" y="398" width="12.5" height="16" fill="#FF99FF"/><rect x="501.2" y="398" width="8.34" height="16" fill="#9900CC"/><rect x="509.53" y="398" width="4.17" height="16" fill="#FF99FF"/><rect x="63.6" y="414" width="187.54" height="16" fill="#99CC00"/><rect x="251.14" y="414" width="8.34" height="16" fill="#006600"/><rect x="259.48" y="414" width="87.52" height="16" fill="#99CC00"/><rect x="347" y="414" width="4.17" height="16" fill="#006600"/><rect x="351.16" y="414" width="83.35" height="16" fill="#99CC00"/><rect x="434.52" y="414" width="4.17" height="16" fill="#006600"/><rect x="438.68" y="414" width="62.51" height="16" fill="#99CC00"/><rect x="501.2" y="414" width="4.17" height="16" fill="#006600"/><rect x="505.36" y="414" width="8.34" height="16" fill="#99CC00"/><rect x="67.52" y="382" width="0.45" height="48" fill="#fff" fill-opacity="0.28"/><rect x="71.69" y="382" width="0.45" height="48" fill="#fff" fill-opacity="0.28"/><rect x="75.85" y="382" width="0.45" height="48" fill="#fff" fill-opacity="0.28"/><rect x="80.02" y="382" width="0.45" height="48" fill="#fff" fill-opacity="0.28"/><rect x="84.19" y="382" width="0.45" height="48" fill="#fff" fill-opacity="0.28"/><rect x="88.36" y="382" width="0.45" height="48" fill="#fff" fill-opacity="0.28"/><rect x="92.52" y="382" width="0.45" height="48" fill="#fff" fill-opacity="0.28"/><rect x="96.69" y="382" width="0.45" height="48" fill="#fff" fill-opacity="0.28"/><rect x="100.86" y="382" width="0.45" height="48" fill="#fff" fill-opacity="0.28"/><rect x="105.03" y="382" width="0.45" height="48" fill="#fff" fill-opacity="0.28"/><rect x="109.19" y="382" width="0.45" height="48" fill="#fff" fill-opacity="0.28"/><rect x="113.36" y="382" width="0.45" height="48" fill="#fff" fill-opacity="0.28"/><rect x="117.53" y="382" width="0.45" height="48" fill="#fff" fill-opacity="0.28"/><rect x="121.7" y="382" width="0.45" height="48" fill="#fff" fill-opacity="0.28"/><rect x="125.86" y="382" width="0.45" height="48" fill="#fff" fill-opacity="0.28"/><rect x="130.03" y="382" width="0.45" height="48" fill="#fff" fill-opacity="0.28"/><rect x="134.2" y="382" width="0.45" height="48" fill="#fff" fill-opacity="0.28"/><rect x="138.37" y="382" width="0.45" height="48" fill="#fff" fill-opacity="0.28"/><rect x="142.53" y="382" width="0.45" height="48" fill="#fff" fill-opacity="0.28"/><rect x="146.7" y="382" width="0.45" height="48" fill="#fff" fill-opacity="0.28"/><rect x="150.87" y="382" width="0.45" height="48" fill="#fff" fill-opacity="0.28"/><rect x="155.04" y="382" width="0.45" height="48" fill="#fff" fill-opacity="0.28"/><rect x="159.2" y="382" width="0.45" height="48" fill="#fff" fill-opacity="0.28"/><rect x="163.37" y="382" width="0.45" height="48" fill="#fff" fill-opacity="0.28"/><rect x="167.54" y="382" width="0.45" height="48" fill="#fff" fill-opacity="0.28"/><rect x="171.71" y="382" width="0.45" height="48" fill="#fff" fill-opacity="0.28"/><rect x="175.88" y="382" width="0.45" height="48" fill="#fff" fill-opacity="0.28"/><rect x="180.04" y="382" width="0.45" height="48" fill="#fff" fill-opacity="0.28"/><rect x="184.21" y="382" width="0.45" height="48" fill="#fff" fill-opacity="0.28"/><rect x="188.38" y="382" width="0.45" height="48" fill="#fff" fill-opacity="0.28"/><rect x="192.55" y="382" width="0.45" height="48" fill="#fff" fill-opacity="0.28"/><rect x="196.71" y="382" width="0.45" height="48" fill="#fff" fill-opacity="0.28"/><rect x="200.88" y="382" width="0.45" height="48" fill="#fff" fill-opacity="0.28"/><rect x="205.05" y="382" width="0.45" height="48" fill="#fff" fill-opacity="0.28"/><rect x="209.22" y="382" width="0.45" height="48" fill="#fff" fill-opacity="0.28"/><rect x="213.38" y="382" width="0.45" height="48" fill="#fff" fill-opacity="0.28"/><rect x="217.55" y="382" width="0.45" height="48" fill="#fff" fill-opacity="0.28"/><rect x="221.72" y="382" width="0.45" height="48" fill="#fff" fill-opacity="0.28"/><rect x="225.89" y="382" width="0.45" height="48" fill="#fff" fill-opacity="0.28"/><rect x="230.05" y="382" width="0.45" height="48" fill="#fff" fill-opacity="0.28"/><rect x="234.22" y="382" width="0.45" height="48" fill="#fff" fill-opacity="0.28"/><rect x="238.39" y="382" width="0.45" height="48" fill="#fff" fill-opacity="0.28"/><rect x="242.56" y="382" width="0.45" height="48" fill="#fff" fill-opacity="0.28"/><rect x="246.72" y="382" width="0.45" height="48" fill="#fff" fill-opacity="0.28"/><rect x="250.89" y="382" width="0.45" height="48" fill="#fff" fill-opacity="0.28"/><rect x="255.06" y="382" width="0.45" height="48" fill="#fff" fill-opacity="0.28"/><rect x="259.23" y="382" width="0.45" height="48" fill="#fff" fill-opacity="0.28"/><rect x="263.39" y="382" width="0.45" height="48" fill="#fff" fill-opacity="0.28"/><rect x="267.56" y="382" width="0.45" height="48" fill="#fff" fill-opacity="0.28"/><rect x="271.73" y="382" width="0.45" height="48" fill="#fff" fill-opacity="0.28"/><rect x="275.9" y="382" width="0.45" height="48" fill="#fff" fill-opacity="0.28"/><rect x="280.06" y="382" width="0.45" height="48" fill="#fff" fill-opacity="0.28"/><rect x="284.23" y="382" width="0.45" height="48" fill="#fff" fill-opacity="0.28"/><rect x="288.4" y="382" width="0.45" height="48" fill="#fff" fill-opacity="0.28"/><rect x="292.57" y="382" width="0.45" height="48" fill="#fff" fill-opacity="0.28"/><rect x="296.74" y="382" width="0.45" height="48" fill="#fff" fill-opacity="0.28"/><rect x="300.9" y="382" width="0.45" height="48" fill="#fff" fill-opacity="0.28"/><rect x="305.07" y="382" width="0.45" height="48" fill="#fff" fill-opacity="0.28"/><rect x="309.24" y="382" width="0.45" height="48" fill="#fff" fill-opacity="0.28"/><rect x="313.41" y="382" width="0.45" height="48" fill="#fff" fill-opacity="0.28"/><rect x="317.57" y="382" width="0.45" height="48" fill="#fff" fill-opacity="0.28"/><rect x="321.74" y="382" width="0.45" height="48" fill="#fff" fill-opacity="0.28"/><rect x="325.91" y="382" width="0.45" height="48" fill="#fff" fill-opacity="0.28"/><rect x="330.08" y="382" width="0.45" height="48" fill="#fff" fill-opacity="0.28"/><rect x="334.24" y="382" width="0.45" height="48" fill="#fff" fill-opacity="0.28"/><rect x="338.41" y="382" width="0.45" height="48" fill="#fff" fill-opacity="0.28"/><rect x="342.58" y="382" width="0.45" height="48" fill="#fff" fill-opacity="0.28"/><rect x="346.75" y="382" width="0.45" height="48" fill="#fff" fill-opacity="0.28"/><rect x="350.91" y="382" width="0.45" height="48" fill="#fff" fill-opacity="0.28"/><rect x="355.08" y="382" width="0.45" height="48" fill="#fff" fill-opacity="0.28"/><rect x="359.25" y="382" width="0.45" height="48" fill="#fff" fill-opacity="0.28"/><rect x="363.42" y="382" width="0.45" height="48" fill="#fff" fill-opacity="0.28"/><rect x="367.58" y="382" width="0.45" height="48" fill="#fff" fill-opacity="0.28"/><rect x="371.75" y="382" width="0.45" height="48" fill="#fff" fill-opacity="0.28"/><rect x="375.92" y="382" width="0.45" height="48" fill="#fff" fill-opacity="0.28"/><rect x="380.09" y="382" width="0.45" height="48" fill="#fff" fill-opacity="0.28"/><rect x="384.25" y="382" width="0.45" height="48" fill="#fff" fill-opacity="0.28"/><rect x="388.42" y="382" width="0.45" height="48" fill="#fff" fill-opacity="0.28"/><rect x="392.59" y="382" width="0.45" height="48" fill="#fff" fill-opacity="0.28"/><rect x="396.76" y="382" width="0.45" height="48" fill="#fff" fill-opacity="0.28"/><rect x="400.93" y="382" width="0.45" height="48" fill="#fff" fill-opacity="0.28"/><rect x="405.09" y="382" width="0.45" height="48" fill="#fff" fill-opacity="0.28"/><rect x="409.26" y="382" width="0.45" height="48" fill="#fff" fill-opacity="0.28"/><rect x="413.43" y="382" width="0.45" height="48" fill="#fff" fill-opacity="0.28"/><rect x="417.6" y="382" width="0.45" height="48" fill="#fff" fill-opacity="0.28"/><rect x="421.76" y="382" width="0.45" height="48" fill="#fff" fill-opacity="0.28"/><rect x="425.93" y="382" width="0.45" height="48" fill="#fff" fill-opacity="0.28"/><rect x="430.1" y="382" width="0.45" height="48" fill="#fff" fill-opacity="0.28"/><rect x="434.27" y="382" width="0.45" height="48" fill="#fff" fill-opacity="0.28"/><rect x="438.43" y="382" width="0.45" height="48" fill="#fff" fill-opacity="0.28"/><rect x="442.6" y="382" width="0.45" height="48" fill="#fff" fill-opacity="0.28"/><rect x="446.77" y="382" width="0.45" height="48" fill="#fff" fill-opacity="0.28"/><rect x="450.94" y="382" width="0.45" height="48" fill="#fff" fill-opacity="0.28"/><rect x="455.1" y="382" width="0.45" height="48" fill="#fff" fill-opacity="0.28"/><rect x="459.27" y="382" width="0.45" height="48" fill="#fff" fill-opacity="0.28"/><rect x="463.44" y="382" width="0.45" height="48" fill="#fff" fill-opacity="0.28"/><rect x="467.61" y="382" width="0.45" height="48" fill="#fff" fill-opacity="0.28"/><rect x="471.77" y="382" width="0.45" height="48" fill="#fff" fill-opacity="0.28"/><rect x="475.94" y="382" width="0.45" height="48" fill="#fff" fill-opacity="0.28"/><rect x="480.11" y="382" width="0.45" height="48" fill="#fff" fill-opacity="0.28"/><rect x="484.28" y="382" width="0.45" height="48" fill="#fff" fill-opacity="0.28"/><rect x="488.44" y="382" width="0.45" height="48" fill="#fff" fill-opacity="0.28"/><rect x="492.61" y="382" width="0.45" height="48" fill="#fff" fill-opacity="0.28"/><rect x="496.78" y="382" width="0.45" height="48" fill="#fff" fill-opacity="0.28"/><rect x="500.95" y="382" width="0.45" height="48" fill="#fff" fill-opacity="0.28"/><rect x="505.11" y="382" width="0.45" height="48" fill="#fff" fill-opacity="0.28"/><rect x="509.28" y="382" width="0.45" height="48" fill="#fff" fill-opacity="0.28"/>
<text transform="translate(519.2 394.6) scale(1 1.09)" font-size="13.5">Recurrent</text><text transform="translate(519.2 410.6) scale(1 1.09)" font-size="13.5">TMB</text><text transform="translate(519.2 426.6) scale(1 1.09)" font-size="13.5">MSI</text>
<rect x="63.6" y="434.9" width="3.55" height="4.88" fill="#FF9800"/><rect x="63.6" y="439.78" width="3.55" height="4.77" fill="#4CAF50"/><rect x="63.6" y="444.55" width="3.55" height="42.69" fill="#FFC107"/><rect x="63.6" y="487.24" width="3.55" height="33.75" fill="#F44336"/><rect x="63.6" y="520.99" width="3.55" height="14.19" fill="#3F51B5"/><rect x="63.6" y="535.18" width="3.55" height="18.92" fill="#2196F3"/><rect x="67.77" y="434.9" width="3.55" height="13.04" fill="#FF9800"/><rect x="67.77" y="447.94" width="3.55" height="7.03" fill="#4CAF50"/><rect x="67.77" y="454.98" width="3.55" height="6.78" fill="#FFC107"/><rect x="67.77" y="461.76" width="3.55" height="66.26" fill="#F44336"/><rect x="67.77" y="528.02" width="3.55" height="6.15" fill="#3F51B5"/><rect x="67.77" y="534.17" width="3.55" height="19.93" fill="#2196F3"/><rect x="71.94" y="434.9" width="3.55" height="12.17" fill="#FF9800"/><rect x="71.94" y="447.07" width="3.55" height="25.74" fill="#FFC107"/><rect x="71.94" y="472.8" width="3.55" height="50.07" fill="#F44336"/><rect x="71.94" y="522.87" width="3.55" height="6.03" fill="#3F51B5"/><rect x="71.94" y="528.9" width="3.55" height="25.2" fill="#2196F3"/><rect x="76.1" y="434.9" width="3.55" height="10.03" fill="#FF9800"/><rect x="76.1" y="444.93" width="3.55" height="19.96" fill="#4CAF50"/><rect x="76.1" y="464.89" width="3.55" height="10.04" fill="#FFC107"/><rect x="76.1" y="474.94" width="3.55" height="39.77" fill="#F44336"/><rect x="76.1" y="514.71" width="3.55" height="24.23" fill="#3F51B5"/><rect x="76.1" y="538.94" width="3.55" height="15.16" fill="#2196F3"/><rect x="80.27" y="434.9" width="3.55" height="7.77" fill="#FF9800"/><rect x="80.27" y="442.67" width="3.55" height="7.16" fill="#4CAF50"/><rect x="80.27" y="449.83" width="3.55" height="15.07" fill="#FFC107"/><rect x="80.27" y="464.89" width="3.55" height="59.86" fill="#F44336"/><rect x="80.27" y="524.76" width="3.55" height="10.42" fill="#3F51B5"/><rect x="80.27" y="535.18" width="3.55" height="18.92" fill="#2196F3"/><rect x="84.44" y="434.9" width="3.55" height="13.04" fill="#FF9800"/><rect x="84.44" y="447.94" width="3.55" height="7.03" fill="#4CAF50"/><rect x="84.44" y="454.98" width="3.55" height="26.37" fill="#FFC107"/><rect x="84.44" y="481.34" width="3.55" height="59.74" fill="#F44336"/><rect x="84.44" y="541.08" width="3.55" height="6.4" fill="#3F51B5"/><rect x="84.44" y="547.48" width="3.55" height="6.62" fill="#2196F3"/><rect x="88.61" y="434.9" width="3.55" height="7.4" fill="#FF9800"/><rect x="88.61" y="442.3" width="3.55" height="22.6" fill="#4CAF50"/><rect x="88.61" y="464.89" width="3.55" height="14.81" fill="#FFC107"/><rect x="88.61" y="479.71" width="3.55" height="67.14" fill="#F44336"/><rect x="88.61" y="546.85" width="3.55" height="7.25" fill="#3F51B5"/><rect x="92.77" y="434.9" width="3.55" height="10.03" fill="#FF9800"/><rect x="92.77" y="444.93" width="3.55" height="30.01" fill="#4CAF50"/><rect x="92.77" y="474.94" width="3.55" height="39.77" fill="#F44336"/><rect x="92.77" y="514.71" width="3.55" height="9.42" fill="#3F51B5"/><rect x="92.77" y="524.13" width="3.55" height="29.97" fill="#2196F3"/><rect x="96.94" y="434.9" width="3.55" height="6.27" fill="#FF9800"/><rect x="96.94" y="441.17" width="3.55" height="12.55" fill="#4CAF50"/><rect x="96.94" y="453.72" width="3.55" height="19.08" fill="#FFC107"/><rect x="96.94" y="472.8" width="3.55" height="50.07" fill="#F44336"/><rect x="96.94" y="522.87" width="3.55" height="12.3" fill="#3F51B5"/><rect x="96.94" y="535.18" width="3.55" height="18.92" fill="#2196F3"/><rect x="101.11" y="434.9" width="3.55" height="4.26" fill="#4CAF50"/><rect x="101.11" y="439.16" width="3.55" height="14.19" fill="#FFC107"/><rect x="101.11" y="453.34" width="3.55" height="59.61" fill="#F44336"/><rect x="101.11" y="512.95" width="3.55" height="27.5" fill="#3F51B5"/><rect x="101.11" y="540.45" width="3.55" height="13.65" fill="#2196F3"/><rect x="105.28" y="434.9" width="3.55" height="7.14" fill="#FF9800"/><rect x="105.28" y="442.04" width="3.55" height="13.81" fill="#4CAF50"/><rect x="105.28" y="455.85" width="3.55" height="28.25" fill="#FFC107"/><rect x="105.28" y="484.1" width="3.55" height="35.13" fill="#F44336"/><rect x="105.28" y="519.23" width="3.55" height="13.81" fill="#3F51B5"/><rect x="105.28" y="533.04" width="3.55" height="21.06" fill="#2196F3"/><rect x="109.44" y="434.9" width="3.55" height="18.44" fill="#4CAF50"/><rect x="109.44" y="453.34" width="3.55" height="55.09" fill="#F44336"/><rect x="109.44" y="508.43" width="3.55" height="27.37" fill="#3F51B5"/><rect x="109.44" y="535.8" width="3.55" height="18.3" fill="#2196F3"/><rect x="113.61" y="434.9" width="3.55" height="14.3" fill="#FF9800"/><rect x="113.61" y="449.2" width="3.55" height="4.52" fill="#4CAF50"/><rect x="113.61" y="453.72" width="3.55" height="14.69" fill="#FFC107"/><rect x="113.61" y="468.41" width="3.55" height="47.56" fill="#F44336"/><rect x="113.61" y="515.97" width="3.55" height="19.21" fill="#3F51B5"/><rect x="113.61" y="535.18" width="3.55" height="18.92" fill="#2196F3"/><rect x="117.78" y="434.9" width="3.55" height="5.89" fill="#FF9800"/><rect x="117.78" y="440.79" width="3.55" height="17.95" fill="#4CAF50"/><rect x="117.78" y="458.74" width="3.55" height="12.18" fill="#FFC107"/><rect x="117.78" y="470.92" width="3.55" height="53.83" fill="#F44336"/><rect x="117.78" y="524.76" width="3.55" height="11.42" fill="#3F51B5"/><rect x="117.78" y="536.18" width="3.55" height="17.92" fill="#2196F3"/><rect x="121.95" y="434.9" width="3.55" height="10.66" fill="#FF9800"/><rect x="121.95" y="445.56" width="3.55" height="5.52" fill="#FFC107"/><rect x="121.95" y="451.08" width="3.55" height="81.58" fill="#F44336"/><rect x="121.95" y="532.66" width="3.55" height="5.27" fill="#3F51B5"/><rect x="121.95" y="537.94" width="3.55" height="16.16" fill="#2196F3"/><rect x="126.11" y="434.9" width="3.55" height="10.66" fill="#FF9800"/><rect x="126.11" y="445.56" width="3.55" height="11.17" fill="#4CAF50"/><rect x="126.11" y="456.73" width="3.55" height="32.64" fill="#FFC107"/><rect x="126.11" y="489.38" width="3.55" height="43.29" fill="#F44336"/><rect x="126.11" y="532.66" width="3.55" height="21.44" fill="#2196F3"/><rect x="130.28" y="434.9" width="3.55" height="5.89" fill="#4CAF50"/><rect x="130.28" y="440.79" width="3.55" height="11.3" fill="#FFC107"/><rect x="130.28" y="452.09" width="3.55" height="51.07" fill="#F44336"/><rect x="130.28" y="503.16" width="3.55" height="16.95" fill="#3F51B5"/><rect x="130.28" y="520.11" width="3.55" height="33.99" fill="#2196F3"/><rect x="134.45" y="434.9" width="3.55" height="11.91" fill="#FF9800"/><rect x="134.45" y="446.81" width="3.55" height="83.97" fill="#F44336"/><rect x="134.45" y="530.78" width="3.55" height="23.32" fill="#3F51B5"/><rect x="138.62" y="434.9" width="3.55" height="7.4" fill="#FF9800"/><rect x="138.62" y="442.3" width="3.55" height="15.19" fill="#FFC107"/><rect x="138.62" y="457.49" width="3.55" height="67.27" fill="#F44336"/><rect x="138.62" y="524.76" width="3.55" height="14.19" fill="#3F51B5"/><rect x="138.62" y="538.94" width="3.55" height="15.16" fill="#2196F3"/><rect x="142.78" y="434.9" width="3.55" height="8.15" fill="#FF9800"/><rect x="142.78" y="443.05" width="3.55" height="9.04" fill="#FFC107"/><rect x="142.78" y="452.09" width="3.55" height="84.97" fill="#F44336"/><rect x="142.78" y="537.06" width="3.55" height="17.04" fill="#2196F3"/><rect x="146.95" y="434.9" width="3.55" height="7.14" fill="#FF9800"/><rect x="146.95" y="442.04" width="3.55" height="6.91" fill="#4CAF50"/><rect x="146.95" y="448.95" width="3.55" height="14.06" fill="#FFC107"/><rect x="146.95" y="463.01" width="3.55" height="77.44" fill="#F44336"/><rect x="146.95" y="540.45" width="3.55" height="13.65" fill="#3F51B5"/><rect x="151.12" y="434.9" width="3.55" height="21.58" fill="#FF9800"/><rect x="151.12" y="456.48" width="3.55" height="11.05" fill="#4CAF50"/><rect x="151.12" y="467.53" width="3.55" height="64.88" fill="#F44336"/><rect x="151.12" y="532.41" width="3.55" height="21.69" fill="#3F51B5"/><rect x="155.29" y="434.9" width="3.55" height="13.04" fill="#FF9800"/><rect x="155.29" y="447.94" width="3.55" height="79.95" fill="#F44336"/><rect x="155.29" y="527.89" width="3.55" height="26.21" fill="#3F51B5"/><rect x="159.45" y="434.9" width="3.55" height="29.99" fill="#F44336"/><rect x="159.45" y="464.89" width="3.55" height="29.5" fill="#3F51B5"/><rect x="159.45" y="494.4" width="3.55" height="59.7" fill="#2196F3"/><rect x="163.62" y="434.9" width="3.55" height="16.18" fill="#FF9800"/><rect x="163.62" y="451.08" width="3.55" height="7.66" fill="#4CAF50"/><rect x="163.62" y="458.74" width="3.55" height="16.2" fill="#FFC107"/><rect x="163.62" y="474.94" width="3.55" height="39.77" fill="#F44336"/><rect x="163.62" y="514.71" width="3.55" height="15.69" fill="#3F51B5"/><rect x="163.62" y="530.4" width="3.55" height="23.7" fill="#2196F3"/><rect x="167.79" y="434.9" width="3.55" height="16.18" fill="#FF9800"/><rect x="167.79" y="451.08" width="3.55" height="23.6" fill="#4CAF50"/><rect x="167.79" y="474.69" width="3.55" height="51.95" fill="#F44336"/><rect x="167.79" y="526.64" width="3.55" height="15.69" fill="#3F51B5"/><rect x="167.79" y="542.33" width="3.55" height="11.77" fill="#2196F3"/><rect x="171.96" y="434.9" width="3.55" height="8.02" fill="#FF9800"/><rect x="171.96" y="442.92" width="3.55" height="15.82" fill="#4CAF50"/><rect x="171.96" y="458.74" width="3.55" height="40.02" fill="#FFC107"/><rect x="171.96" y="498.77" width="3.55" height="47.71" fill="#F44336"/><rect x="171.96" y="546.48" width="3.55" height="7.62" fill="#3F51B5"/><rect x="176.12" y="434.9" width="3.55" height="6.14" fill="#4CAF50"/><rect x="176.12" y="441.04" width="3.55" height="25.11" fill="#FFC107"/><rect x="176.12" y="466.15" width="3.55" height="44.17" fill="#F44336"/><rect x="176.12" y="510.32" width="3.55" height="18.58" fill="#3F51B5"/><rect x="176.12" y="528.9" width="3.55" height="25.2" fill="#2196F3"/><rect x="180.29" y="434.9" width="3.55" height="6.52" fill="#FF9800"/><rect x="180.29" y="441.42" width="3.55" height="33.27" fill="#4CAF50"/><rect x="180.29" y="474.69" width="3.55" height="6.65" fill="#FFC107"/><rect x="180.29" y="481.34" width="3.55" height="33.37" fill="#F44336"/><rect x="180.29" y="514.71" width="3.55" height="13.18" fill="#3F51B5"/><rect x="180.29" y="527.89" width="3.55" height="26.21" fill="#2196F3"/><rect x="184.46" y="434.9" width="3.55" height="29.99" fill="#4CAF50"/><rect x="184.46" y="464.89" width="3.55" height="14.81" fill="#FFC107"/><rect x="184.46" y="479.71" width="3.55" height="44.8" fill="#F44336"/><rect x="184.46" y="524.5" width="3.55" height="29.6" fill="#2196F3"/><rect x="188.63" y="434.9" width="3.55" height="9.03" fill="#FF9800"/><rect x="188.63" y="443.93" width="3.55" height="7.78" fill="#4CAF50"/><rect x="188.63" y="451.71" width="3.55" height="9.17" fill="#FFC107"/><rect x="188.63" y="460.88" width="3.55" height="59.23" fill="#F44336"/><rect x="188.63" y="520.11" width="3.55" height="8.79" fill="#3F51B5"/><rect x="188.63" y="528.9" width="3.55" height="25.2" fill="#2196F3"/><rect x="192.8" y="434.9" width="3.55" height="7.4" fill="#4CAF50"/><rect x="192.8" y="442.3" width="3.55" height="22.6" fill="#FFC107"/><rect x="192.8" y="464.89" width="3.55" height="52.33" fill="#F44336"/><rect x="192.8" y="517.22" width="3.55" height="14.56" fill="#3F51B5"/><rect x="192.8" y="531.79" width="3.55" height="22.31" fill="#2196F3"/><rect x="196.96" y="434.9" width="3.55" height="14.93" fill="#4CAF50"/><rect x="196.96" y="449.83" width="3.55" height="15.07" fill="#FFC107"/><rect x="196.96" y="464.89" width="3.55" height="14.81" fill="#3F51B5"/><rect x="196.96" y="479.71" width="3.55" height="74.39" fill="#2196F3"/><rect x="201.13" y="434.9" width="3.55" height="11.91" fill="#FF9800"/><rect x="201.13" y="446.81" width="3.55" height="36.03" fill="#F44336"/><rect x="201.13" y="482.85" width="3.55" height="35.38" fill="#3F51B5"/><rect x="201.13" y="518.23" width="3.55" height="35.87" fill="#2196F3"/><rect x="205.3" y="434.9" width="3.55" height="11.91" fill="#4CAF50"/><rect x="205.3" y="446.81" width="3.55" height="11.93" fill="#FFC107"/><rect x="205.3" y="458.74" width="3.55" height="59.74" fill="#F44336"/><rect x="205.3" y="518.48" width="3.55" height="23.85" fill="#3F51B5"/><rect x="205.3" y="542.33" width="3.55" height="11.77" fill="#2196F3"/><rect x="209.47" y="434.9" width="3.55" height="32.63" fill="#4CAF50"/><rect x="209.47" y="467.53" width="3.55" height="10.92" fill="#FFC107"/><rect x="209.47" y="478.45" width="3.55" height="43.29" fill="#F44336"/><rect x="209.47" y="521.74" width="3.55" height="21.22" fill="#3F51B5"/><rect x="209.47" y="542.96" width="3.55" height="11.14" fill="#2196F3"/><rect x="213.63" y="434.9" width="3.55" height="23.84" fill="#4CAF50"/><rect x="213.63" y="458.74" width="3.55" height="12.18" fill="#FFC107"/><rect x="213.63" y="470.92" width="3.55" height="71.54" fill="#F44336"/><rect x="213.63" y="542.46" width="3.55" height="11.64" fill="#3F51B5"/><rect x="217.8" y="434.9" width="3.55" height="16.18" fill="#FF9800"/><rect x="217.8" y="451.08" width="3.55" height="16.07" fill="#FFC107"/><rect x="217.8" y="467.15" width="3.55" height="39.4" fill="#F44336"/><rect x="217.8" y="506.55" width="3.55" height="31.39" fill="#3F51B5"/><rect x="217.8" y="537.94" width="3.55" height="16.16" fill="#2196F3"/><rect x="221.97" y="434.9" width="3.55" height="18.44" fill="#FFC107"/><rect x="221.97" y="453.34" width="3.55" height="64.51" fill="#F44336"/><rect x="221.97" y="517.85" width="3.55" height="17.95" fill="#3F51B5"/><rect x="221.97" y="535.8" width="3.55" height="18.3" fill="#2196F3"/><rect x="226.14" y="434.9" width="3.55" height="14.93" fill="#4CAF50"/><rect x="226.14" y="449.83" width="3.55" height="59.86" fill="#FFC107"/><rect x="226.14" y="509.69" width="3.55" height="29.25" fill="#F44336"/><rect x="226.14" y="538.94" width="3.55" height="15.16" fill="#2196F3"/><rect x="230.3" y="434.9" width="3.55" height="7.77" fill="#FF9800"/><rect x="230.3" y="442.67" width="3.55" height="24.23" fill="#FFC107"/><rect x="230.3" y="466.9" width="3.55" height="39.65" fill="#F44336"/><rect x="230.3" y="506.55" width="3.55" height="31.51" fill="#3F51B5"/><rect x="230.3" y="538.06" width="3.55" height="16.04" fill="#2196F3"/><rect x="234.47" y="434.9" width="3.55" height="15.93" fill="#FF9800"/><rect x="234.47" y="450.83" width="3.55" height="7.91" fill="#4CAF50"/><rect x="234.47" y="458.74" width="3.55" height="24.36" fill="#FFC107"/><rect x="234.47" y="483.1" width="3.55" height="55.22" fill="#F44336"/><rect x="234.47" y="538.31" width="3.55" height="15.79" fill="#2196F3"/><rect x="238.64" y="434.9" width="3.55" height="21.83" fill="#FFC107"/><rect x="238.64" y="456.73" width="3.55" height="75.93" fill="#F44336"/><rect x="238.64" y="532.66" width="3.55" height="21.44" fill="#3F51B5"/><rect x="242.81" y="434.9" width="3.55" height="8.02" fill="#4CAF50"/><rect x="242.81" y="442.92" width="3.55" height="15.82" fill="#FFC107"/><rect x="242.81" y="458.74" width="3.55" height="72.04" fill="#F44336"/><rect x="242.81" y="530.78" width="3.55" height="7.28" fill="#3F51B5"/><rect x="242.81" y="538.06" width="3.55" height="16.04" fill="#2196F3"/><rect x="246.97" y="434.9" width="3.55" height="24.97" fill="#FFC107"/><rect x="246.97" y="459.87" width="3.55" height="75.55" fill="#F44336"/><rect x="246.97" y="535.43" width="3.55" height="18.67" fill="#3F51B5"/><rect x="251.14" y="434.9" width="3.55" height="17.19" fill="#F44336"/><rect x="251.14" y="452.09" width="3.55" height="33.9" fill="#3F51B5"/><rect x="251.14" y="485.99" width="3.55" height="68.11" fill="#2196F3"/><rect x="255.31" y="434.9" width="3.55" height="17.19" fill="#FFC107"/><rect x="255.31" y="452.09" width="3.55" height="85.22" fill="#F44336"/><rect x="255.31" y="537.31" width="3.55" height="16.79" fill="#2196F3"/><rect x="259.48" y="434.9" width="3.55" height="29.99" fill="#4CAF50"/><rect x="259.48" y="464.89" width="3.55" height="29.5" fill="#F44336"/><rect x="259.48" y="494.4" width="3.55" height="29.85" fill="#3F51B5"/><rect x="259.48" y="524.25" width="3.55" height="29.85" fill="#2196F3"/><rect x="263.64" y="434.9" width="3.55" height="11.29" fill="#FF9800"/><rect x="263.64" y="446.19" width="3.55" height="6.78" fill="#FFC107"/><rect x="263.64" y="452.97" width="3.55" height="47.68" fill="#F44336"/><rect x="263.64" y="500.65" width="3.55" height="23.6" fill="#3F51B5"/><rect x="263.64" y="524.25" width="3.55" height="29.85" fill="#2196F3"/><rect x="267.81" y="434.9" width="3.55" height="29.99" fill="#FFC107"/><rect x="267.81" y="464.89" width="3.55" height="67.14" fill="#F44336"/><rect x="267.81" y="532.04" width="3.55" height="22.06" fill="#2196F3"/><rect x="271.98" y="434.9" width="3.55" height="13.04" fill="#FF9800"/><rect x="271.98" y="447.94" width="3.55" height="13.81" fill="#4CAF50"/><rect x="271.98" y="461.76" width="3.55" height="26.11" fill="#FFC107"/><rect x="271.98" y="487.87" width="3.55" height="26.84" fill="#F44336"/><rect x="271.98" y="514.71" width="3.55" height="13.18" fill="#3F51B5"/><rect x="271.98" y="527.89" width="3.55" height="26.21" fill="#2196F3"/><rect x="276.15" y="434.9" width="3.55" height="11.91" fill="#4CAF50"/><rect x="276.15" y="446.81" width="3.55" height="12.18" fill="#FFC107"/><rect x="276.15" y="458.99" width="3.55" height="59.48" fill="#F44336"/><rect x="276.15" y="518.48" width="3.55" height="11.68" fill="#3F51B5"/><rect x="276.15" y="530.15" width="3.55" height="23.95" fill="#2196F3"/><rect x="280.31" y="434.9" width="3.55" height="25.73" fill="#FF9800"/><rect x="280.31" y="460.63" width="3.55" height="16.82" fill="#4CAF50"/><rect x="280.31" y="477.45" width="3.55" height="34.5" fill="#FFC107"/><rect x="280.31" y="511.95" width="3.55" height="33.9" fill="#F44336"/><rect x="280.31" y="545.85" width="3.55" height="8.25" fill="#2196F3"/><rect x="284.48" y="434.9" width="3.55" height="20.08" fill="#4CAF50"/><rect x="284.48" y="454.98" width="3.55" height="59.74" fill="#F44336"/><rect x="284.48" y="514.71" width="3.55" height="19.46" fill="#3F51B5"/><rect x="284.48" y="534.17" width="3.55" height="19.93" fill="#2196F3"/><rect x="288.65" y="434.9" width="3.55" height="7.14" fill="#FF9800"/><rect x="288.65" y="442.04" width="3.55" height="15.07" fill="#FFC107"/><rect x="288.65" y="457.11" width="3.55" height="74.93" fill="#F44336"/><rect x="288.65" y="532.04" width="3.55" height="22.06" fill="#2196F3"/><rect x="292.82" y="434.9" width="3.55" height="18.44" fill="#FF9800"/><rect x="292.82" y="453.34" width="3.55" height="9.04" fill="#4CAF50"/><rect x="292.82" y="462.38" width="3.55" height="9.54" fill="#FFC107"/><rect x="292.82" y="471.92" width="3.55" height="55.09" fill="#F44336"/><rect x="292.82" y="527.02" width="3.55" height="27.08" fill="#3F51B5"/><rect x="296.99" y="434.9" width="3.55" height="20.08" fill="#FF9800"/><rect x="296.99" y="454.98" width="3.55" height="9.92" fill="#4CAF50"/><rect x="296.99" y="464.89" width="3.55" height="20.09" fill="#FFC107"/><rect x="296.99" y="484.98" width="3.55" height="39.77" fill="#F44336"/><rect x="296.99" y="524.76" width="3.55" height="9.42" fill="#3F51B5"/><rect x="296.99" y="534.17" width="3.55" height="19.93" fill="#2196F3"/><rect x="301.15" y="434.9" width="3.55" height="43.55" fill="#FFC107"/><rect x="301.15" y="478.45" width="3.55" height="64.88" fill="#F44336"/><rect x="301.15" y="543.34" width="3.55" height="10.76" fill="#2196F3"/><rect x="305.32" y="434.9" width="3.55" height="14.93" fill="#FF9800"/><rect x="305.32" y="449.83" width="3.55" height="15.07" fill="#4CAF50"/><rect x="305.32" y="464.89" width="3.55" height="14.81" fill="#FFC107"/><rect x="305.32" y="479.71" width="3.55" height="29.98" fill="#F44336"/><rect x="305.32" y="509.69" width="3.55" height="14.56" fill="#3F51B5"/><rect x="305.32" y="524.25" width="3.55" height="29.85" fill="#2196F3"/><rect x="309.49" y="434.9" width="3.55" height="20.08" fill="#FFC107"/><rect x="309.49" y="454.98" width="3.55" height="79.32" fill="#F44336"/><rect x="309.49" y="534.3" width="3.55" height="19.8" fill="#2196F3"/><rect x="313.66" y="434.9" width="3.55" height="14.93" fill="#FFC107"/><rect x="313.66" y="449.83" width="3.55" height="29.88" fill="#F44336"/><rect x="313.66" y="479.71" width="3.55" height="44.54" fill="#3F51B5"/><rect x="313.66" y="524.25" width="3.55" height="29.85" fill="#2196F3"/><rect x="317.82" y="434.9" width="3.55" height="14.93" fill="#FF9800"/><rect x="317.82" y="449.83" width="3.55" height="22.6" fill="#FFC107"/><rect x="317.82" y="472.43" width="3.55" height="44.8" fill="#F44336"/><rect x="317.82" y="517.22" width="3.55" height="7.03" fill="#3F51B5"/><rect x="317.82" y="524.25" width="3.55" height="29.85" fill="#2196F3"/><rect x="321.99" y="434.9" width="3.55" height="99.4" fill="#F44336"/><rect x="321.99" y="534.3" width="3.55" height="19.8" fill="#3F51B5"/><rect x="326.16" y="434.9" width="3.55" height="14.93" fill="#4CAF50"/><rect x="326.16" y="449.83" width="3.55" height="7.66" fill="#FFC107"/><rect x="326.16" y="457.49" width="3.55" height="74.55" fill="#F44336"/><rect x="326.16" y="532.04" width="3.55" height="14.44" fill="#3F51B5"/><rect x="326.16" y="546.48" width="3.55" height="7.62" fill="#2196F3"/><rect x="330.33" y="434.9" width="3.55" height="10.91" fill="#FF9800"/><rect x="330.33" y="445.81" width="3.55" height="10.92" fill="#4CAF50"/><rect x="330.33" y="456.73" width="3.55" height="11.05" fill="#FFC107"/><rect x="330.33" y="467.78" width="3.55" height="53.96" fill="#F44336"/><rect x="330.33" y="521.74" width="3.55" height="21.34" fill="#3F51B5"/><rect x="330.33" y="543.09" width="3.55" height="11.01" fill="#2196F3"/><rect x="334.49" y="434.9" width="3.55" height="8.78" fill="#FF9800"/><rect x="334.49" y="443.68" width="3.55" height="16.95" fill="#4CAF50"/><rect x="334.49" y="460.63" width="3.55" height="42.54" fill="#F44336"/><rect x="334.49" y="503.16" width="3.55" height="16.95" fill="#3F51B5"/><rect x="334.49" y="520.11" width="3.55" height="33.99" fill="#2196F3"/><rect x="338.66" y="434.9" width="3.55" height="20.08" fill="#4CAF50"/><rect x="338.66" y="454.98" width="3.55" height="19.96" fill="#FFC107"/><rect x="338.66" y="474.94" width="3.55" height="29.73" fill="#F44336"/><rect x="338.66" y="504.67" width="3.55" height="39.3" fill="#3F51B5"/><rect x="338.66" y="543.96" width="3.55" height="10.14" fill="#2196F3"/><rect x="342.83" y="434.9" width="3.55" height="16.18" fill="#4CAF50"/><rect x="342.83" y="451.08" width="3.55" height="16.07" fill="#FFC107"/><rect x="342.83" y="467.15" width="3.55" height="71.41" fill="#F44336"/><rect x="342.83" y="538.57" width="3.55" height="7.53" fill="#3F51B5"/><rect x="342.83" y="546.1" width="3.55" height="8" fill="#2196F3"/><rect x="347" y="434.9" width="3.55" height="6.89" fill="#FF9800"/><rect x="347" y="441.79" width="3.55" height="21.22" fill="#FFC107"/><rect x="347" y="463.01" width="3.55" height="56.09" fill="#F44336"/><rect x="347" y="519.11" width="3.55" height="20.72" fill="#3F51B5"/><rect x="347" y="539.82" width="3.55" height="14.28" fill="#2196F3"/><rect x="351.16" y="434.9" width="3.55" height="16.81" fill="#FF9800"/><rect x="351.16" y="451.71" width="3.55" height="17.33" fill="#FFC107"/><rect x="351.16" y="469.04" width="3.55" height="51.45" fill="#F44336"/><rect x="351.16" y="520.49" width="3.55" height="16.57" fill="#3F51B5"/><rect x="351.16" y="537.06" width="3.55" height="17.04" fill="#2196F3"/><rect x="355.33" y="434.9" width="3.55" height="39.41" fill="#FF9800"/><rect x="355.33" y="474.31" width="3.55" height="40.4" fill="#FFC107"/><rect x="355.33" y="514.71" width="3.55" height="39.39" fill="#F44336"/><rect x="359.5" y="434.9" width="3.55" height="14.93" fill="#FFC107"/><rect x="359.5" y="449.83" width="3.55" height="74.68" fill="#F44336"/><rect x="359.5" y="524.5" width="3.55" height="14.44" fill="#3F51B5"/><rect x="359.5" y="538.94" width="3.55" height="15.16" fill="#2196F3"/><rect x="363.67" y="434.9" width="3.55" height="16.81" fill="#4CAF50"/><rect x="363.67" y="451.71" width="3.55" height="9.17" fill="#FFC107"/><rect x="363.67" y="460.88" width="3.55" height="67.77" fill="#F44336"/><rect x="363.67" y="528.65" width="3.55" height="8.41" fill="#3F51B5"/><rect x="363.67" y="537.06" width="3.55" height="17.04" fill="#2196F3"/><rect x="367.83" y="434.9" width="3.55" height="21.83" fill="#FFC107"/><rect x="367.83" y="456.73" width="3.55" height="75.55" fill="#F44336"/><rect x="367.83" y="532.29" width="3.55" height="21.81" fill="#2196F3"/><rect x="372" y="434.9" width="3.55" height="39.79" fill="#4CAF50"/><rect x="372" y="474.69" width="3.55" height="19.71" fill="#FFC107"/><rect x="372" y="494.4" width="3.55" height="59.7" fill="#F44336"/><rect x="376.17" y="434.9" width="3.55" height="8.15" fill="#FFC107"/><rect x="376.17" y="443.05" width="3.55" height="79.32" fill="#F44336"/><rect x="376.17" y="522.37" width="3.55" height="23.73" fill="#3F51B5"/><rect x="376.17" y="546.1" width="3.55" height="8" fill="#2196F3"/><rect x="380.34" y="434.9" width="3.55" height="9.03" fill="#4CAF50"/><rect x="380.34" y="443.93" width="3.55" height="18.83" fill="#FFC107"/><rect x="380.34" y="462.76" width="3.55" height="36.26" fill="#F44336"/><rect x="380.34" y="499.02" width="3.55" height="18.2" fill="#3F51B5"/><rect x="380.34" y="517.22" width="3.55" height="36.88" fill="#2196F3"/><rect x="384.5" y="434.9" width="3.55" height="59.5" fill="#F44336"/><rect x="384.5" y="494.4" width="3.55" height="29.85" fill="#3F51B5"/><rect x="384.5" y="524.25" width="3.55" height="29.85" fill="#2196F3"/><rect x="388.67" y="434.9" width="3.55" height="29.99" fill="#FFC107"/><rect x="388.67" y="464.89" width="3.55" height="74.42" fill="#F44336"/><rect x="388.67" y="539.32" width="3.55" height="14.78" fill="#3F51B5"/><rect x="392.84" y="434.9" width="3.55" height="23.84" fill="#FFC107"/><rect x="392.84" y="458.74" width="3.55" height="47.31" fill="#3F51B5"/><rect x="392.84" y="506.05" width="3.55" height="48.05" fill="#2196F3"/><rect x="397.01" y="434.9" width="3.55" height="20.08" fill="#4CAF50"/><rect x="397.01" y="454.98" width="3.55" height="99.12" fill="#F44336"/><rect x="401.18" y="434.9" width="3.55" height="4.26" fill="#4CAF50"/><rect x="401.18" y="439.16" width="3.55" height="31.14" fill="#FFC107"/><rect x="401.18" y="470.29" width="3.55" height="39.77" fill="#F44336"/><rect x="401.18" y="510.07" width="3.55" height="12.93" fill="#3F51B5"/><rect x="401.18" y="523" width="3.55" height="31.1" fill="#2196F3"/><rect x="405.34" y="434.9" width="3.55" height="10.91" fill="#4CAF50"/><rect x="405.34" y="445.81" width="3.55" height="32.64" fill="#FFC107"/><rect x="405.34" y="478.45" width="3.55" height="54.21" fill="#F44336"/><rect x="405.34" y="532.66" width="3.55" height="21.44" fill="#3F51B5"/><rect x="409.51" y="434.9" width="3.55" height="4.88" fill="#FF9800"/><rect x="409.51" y="439.78" width="3.55" height="10.04" fill="#FFC107"/><rect x="409.51" y="449.83" width="3.55" height="94.51" fill="#F44336"/><rect x="409.51" y="544.34" width="3.55" height="9.76" fill="#2196F3"/><rect x="413.68" y="434.9" width="3.55" height="14.93" fill="#FF9800"/><rect x="413.68" y="449.83" width="3.55" height="20.09" fill="#4CAF50"/><rect x="413.68" y="469.92" width="3.55" height="15.07" fill="#FFC107"/><rect x="413.68" y="484.98" width="3.55" height="49.32" fill="#F44336"/><rect x="413.68" y="534.3" width="3.55" height="14.94" fill="#3F51B5"/><rect x="413.68" y="549.24" width="3.55" height="4.86" fill="#2196F3"/><rect x="417.85" y="434.9" width="3.55" height="11.91" fill="#FF9800"/><rect x="417.85" y="446.81" width="3.55" height="6.15" fill="#4CAF50"/><rect x="417.85" y="452.97" width="3.55" height="11.93" fill="#FFC107"/><rect x="417.85" y="464.89" width="3.55" height="71.54" fill="#F44336"/><rect x="417.85" y="536.43" width="3.55" height="17.67" fill="#2196F3"/><rect x="422.01" y="434.9" width="3.55" height="9.91" fill="#4CAF50"/><rect x="422.01" y="444.81" width="3.55" height="20.09" fill="#FFC107"/><rect x="422.01" y="464.89" width="3.55" height="39.77" fill="#F44336"/><rect x="422.01" y="504.67" width="3.55" height="9.42" fill="#3F51B5"/><rect x="422.01" y="514.08" width="3.55" height="40.02" fill="#2196F3"/><rect x="426.18" y="434.9" width="3.55" height="8.15" fill="#FF9800"/><rect x="426.18" y="443.05" width="3.55" height="23.85" fill="#4CAF50"/><rect x="426.18" y="466.9" width="3.55" height="8.04" fill="#FFC107"/><rect x="426.18" y="474.94" width="3.55" height="39.77" fill="#F44336"/><rect x="426.18" y="514.71" width="3.55" height="31.39" fill="#3F51B5"/><rect x="426.18" y="546.1" width="3.55" height="8" fill="#2196F3"/><rect x="430.35" y="434.9" width="3.55" height="3" fill="#FF9800"/><rect x="430.35" y="437.9" width="3.55" height="7.91" fill="#4CAF50"/><rect x="430.35" y="445.81" width="3.55" height="5.9" fill="#FFC107"/><rect x="430.35" y="451.71" width="3.55" height="44.29" fill="#F44336"/><rect x="430.35" y="496" width="3.55" height="19.71" fill="#3F51B5"/><rect x="430.35" y="515.72" width="3.55" height="38.38" fill="#2196F3"/><rect x="434.52" y="434.9" width="3.55" height="12.79" fill="#FF9800"/><rect x="434.52" y="447.69" width="3.55" height="28.25" fill="#4CAF50"/><rect x="434.52" y="475.94" width="3.55" height="12.55" fill="#FFC107"/><rect x="434.52" y="488.5" width="3.55" height="25.34" fill="#F44336"/><rect x="434.52" y="513.83" width="3.55" height="18.2" fill="#3F51B5"/><rect x="434.52" y="532.04" width="3.55" height="22.06" fill="#2196F3"/><rect x="438.68" y="434.9" width="3.55" height="6.52" fill="#FFC107"/><rect x="438.68" y="441.42" width="3.55" height="33.52" fill="#F44336"/><rect x="438.68" y="474.94" width="3.55" height="59.23" fill="#3F51B5"/><rect x="438.68" y="534.17" width="3.55" height="19.93" fill="#2196F3"/><rect x="442.85" y="434.9" width="3.55" height="9.91" fill="#FF9800"/><rect x="442.85" y="444.81" width="3.55" height="10.17" fill="#4CAF50"/><rect x="442.85" y="454.98" width="3.55" height="30.01" fill="#FFC107"/><rect x="442.85" y="484.98" width="3.55" height="19.69" fill="#F44336"/><rect x="442.85" y="504.67" width="3.55" height="29.5" fill="#3F51B5"/><rect x="442.85" y="534.17" width="3.55" height="19.93" fill="#2196F3"/><rect x="447.02" y="434.9" width="3.55" height="19.32" fill="#FF9800"/><rect x="447.02" y="454.22" width="3.55" height="11.68" fill="#4CAF50"/><rect x="447.02" y="465.9" width="3.55" height="4.02" fill="#FFC107"/><rect x="447.02" y="469.92" width="3.55" height="38.02" fill="#F44336"/><rect x="447.02" y="507.93" width="3.55" height="26.99" fill="#3F51B5"/><rect x="447.02" y="534.92" width="3.55" height="19.18" fill="#2196F3"/><rect x="451.19" y="434.9" width="3.55" height="12.79" fill="#FF9800"/><rect x="451.19" y="447.69" width="3.55" height="18.2" fill="#4CAF50"/><rect x="451.19" y="465.9" width="3.55" height="6.91" fill="#FFC107"/><rect x="451.19" y="472.8" width="3.55" height="56.09" fill="#F44336"/><rect x="451.19" y="528.9" width="3.55" height="6.28" fill="#3F51B5"/><rect x="451.19" y="535.18" width="3.55" height="18.92" fill="#2196F3"/><rect x="455.35" y="434.9" width="3.55" height="5.89" fill="#4CAF50"/><rect x="455.35" y="440.79" width="3.55" height="17.33" fill="#FFC107"/><rect x="455.35" y="458.11" width="3.55" height="73.67" fill="#F44336"/><rect x="455.35" y="531.79" width="3.55" height="11.17" fill="#3F51B5"/><rect x="455.35" y="542.96" width="3.55" height="11.14" fill="#2196F3"/><rect x="459.52" y="434.9" width="3.55" height="5.89" fill="#FF9800"/><rect x="459.52" y="440.79" width="3.55" height="12.18" fill="#4CAF50"/><rect x="459.52" y="452.97" width="3.55" height="6.03" fill="#FFC107"/><rect x="459.52" y="458.99" width="3.55" height="71.54" fill="#F44336"/><rect x="459.52" y="530.53" width="3.55" height="17.45" fill="#3F51B5"/><rect x="459.52" y="547.98" width="3.55" height="6.12" fill="#2196F3"/><rect x="463.69" y="434.9" width="3.55" height="9.91" fill="#FF9800"/><rect x="463.69" y="444.81" width="3.55" height="10.17" fill="#4CAF50"/><rect x="463.69" y="454.98" width="3.55" height="19.96" fill="#FFC107"/><rect x="463.69" y="474.94" width="3.55" height="59.36" fill="#F44336"/><rect x="463.69" y="534.3" width="3.55" height="14.94" fill="#3F51B5"/><rect x="463.69" y="549.24" width="3.55" height="4.86" fill="#2196F3"/><rect x="467.86" y="434.9" width="3.55" height="20.95" fill="#FFC107"/><rect x="467.86" y="455.85" width="3.55" height="63.25" fill="#F44336"/><rect x="467.86" y="519.11" width="3.55" height="27.75" fill="#3F51B5"/><rect x="467.86" y="546.85" width="3.55" height="7.25" fill="#2196F3"/><rect x="472.02" y="434.9" width="3.55" height="21.83" fill="#FF9800"/><rect x="472.02" y="456.73" width="3.55" height="10.8" fill="#4CAF50"/><rect x="472.02" y="467.53" width="3.55" height="11.17" fill="#FFC107"/><rect x="472.02" y="478.7" width="3.55" height="64.63" fill="#F44336"/><rect x="472.02" y="543.34" width="3.55" height="10.76" fill="#2196F3"/><rect x="476.19" y="434.9" width="3.55" height="13.04" fill="#FF9800"/><rect x="476.19" y="447.94" width="3.55" height="7.03" fill="#4CAF50"/><rect x="476.19" y="454.98" width="3.55" height="13.43" fill="#FFC107"/><rect x="476.19" y="468.41" width="3.55" height="39.52" fill="#F44336"/><rect x="476.19" y="507.93" width="3.55" height="26.24" fill="#3F51B5"/><rect x="476.19" y="534.17" width="3.55" height="19.93" fill="#2196F3"/><rect x="480.36" y="434.9" width="3.55" height="7.77" fill="#FF9800"/><rect x="480.36" y="442.67" width="3.55" height="7.16" fill="#4CAF50"/><rect x="480.36" y="449.83" width="3.55" height="7.66" fill="#FFC107"/><rect x="480.36" y="457.49" width="3.55" height="52.2" fill="#F44336"/><rect x="480.36" y="509.69" width="3.55" height="14.56" fill="#3F51B5"/><rect x="480.36" y="524.25" width="3.55" height="29.85" fill="#2196F3"/><rect x="484.53" y="434.9" width="3.55" height="9.65" fill="#FF9800"/><rect x="484.53" y="444.55" width="3.55" height="14.19" fill="#4CAF50"/><rect x="484.53" y="458.74" width="3.55" height="72.04" fill="#F44336"/><rect x="484.53" y="530.78" width="3.55" height="9.04" fill="#3F51B5"/><rect x="484.53" y="539.82" width="3.55" height="14.28" fill="#2196F3"/><rect x="488.69" y="434.9" width="3.55" height="17.19" fill="#FF9800"/><rect x="488.69" y="452.09" width="3.55" height="16.95" fill="#4CAF50"/><rect x="488.69" y="469.04" width="3.55" height="51.45" fill="#FFC107"/><rect x="488.69" y="520.49" width="3.55" height="16.57" fill="#3F51B5"/><rect x="488.69" y="537.06" width="3.55" height="17.04" fill="#2196F3"/><rect x="492.86" y="434.9" width="3.55" height="9.03" fill="#FF9800"/><rect x="492.86" y="443.93" width="3.55" height="28" fill="#FFC107"/><rect x="492.86" y="471.92" width="3.55" height="64.13" fill="#F44336"/><rect x="492.86" y="536.05" width="3.55" height="8.91" fill="#3F51B5"/><rect x="492.86" y="544.97" width="3.55" height="9.13" fill="#2196F3"/><rect x="497.03" y="434.9" width="3.55" height="36.02" fill="#FF9800"/><rect x="497.03" y="470.92" width="3.55" height="12.18" fill="#4CAF50"/><rect x="497.03" y="483.1" width="3.55" height="11.3" fill="#F44336"/><rect x="497.03" y="494.4" width="3.55" height="23.83" fill="#3F51B5"/><rect x="497.03" y="518.23" width="3.55" height="35.87" fill="#2196F3"/><rect x="501.2" y="434.9" width="3.55" height="9.65" fill="#FF9800"/><rect x="501.2" y="444.55" width="3.55" height="13.81" fill="#4CAF50"/><rect x="501.2" y="458.37" width="3.55" height="14.69" fill="#FFC107"/><rect x="501.2" y="473.05" width="3.55" height="34.5" fill="#F44336"/><rect x="501.2" y="507.55" width="3.55" height="15.44" fill="#3F51B5"/><rect x="501.2" y="523" width="3.55" height="31.1" fill="#2196F3"/><rect x="505.36" y="434.9" width="3.55" height="3" fill="#FF9800"/><rect x="505.36" y="437.9" width="3.55" height="3.14" fill="#4CAF50"/><rect x="505.36" y="441.04" width="3.55" height="8.79" fill="#FFC107"/><rect x="505.36" y="449.83" width="3.55" height="92.63" fill="#F44336"/><rect x="505.36" y="542.46" width="3.55" height="11.64" fill="#2196F3"/><rect x="509.53" y="434.9" width="3.55" height="9.28" fill="#4CAF50"/><rect x="509.53" y="444.18" width="3.55" height="18.58" fill="#FFC107"/><rect x="509.53" y="462.76" width="3.55" height="64" fill="#F44336"/><rect x="509.53" y="526.76" width="3.55" height="9.04" fill="#3F51B5"/><rect x="509.53" y="535.8" width="3.55" height="18.3" fill="#2196F3"/>
<rect x="551.6" y="456" width="6.1" height="6.1" fill="#F44336"/><text transform="translate(566.4 463.5) scale(1 1.09)" font-size="13.5">C&gt;T</text><rect x="603.8" y="456" width="6.1" height="6.1" fill="#4CAF50"/><text transform="translate(618.5 463.5) scale(1 1.09)" font-size="13.5">T&gt;A</text><rect x="551.6" y="471.65" width="6.1" height="6.1" fill="#3F51B5"/><text transform="translate(566.4 479.15) scale(1 1.09)" font-size="13.5">C&gt;G</text><rect x="603.8" y="471.65" width="6.1" height="6.1" fill="#FFC107"/><text transform="translate(618.5 479.15) scale(1 1.09)" font-size="13.5">T&gt;C</text><rect x="551.6" y="487.3" width="6.1" height="6.1" fill="#2196F3"/><text transform="translate(566.4 494.8) scale(1 1.09)" font-size="13.5">C&gt;A</text><rect x="603.8" y="487.3" width="6.1" height="6.1" fill="#FF9800"/><text transform="translate(618.5 494.8) scale(1 1.09)" font-size="13.5">T&gt;G</text>
<rect x="11.7" y="571.9" width="5.7" height="5.7" fill="#FFCC33"/><text transform="translate(26.6 579.5) scale(1 1.03)" font-size="13.7">Nonframeshift deletion</text><rect x="11.7" y="587.6" width="5.7" height="5.7" fill="#339900"/><text transform="translate(26.6 595.2) scale(1 1.03)" font-size="13.7">Missense mutation</text><rect x="11.7" y="603.3" width="5.7" height="5.7" fill="#3399FF"/><text transform="translate(26.6 610.9) scale(1 1.03)" font-size="13.7">Frameshift deletion</text><rect x="11.7" y="619" width="5.7" height="5.7" fill="#CC0000"/><text transform="translate(26.6 626.6) scale(1 1.03)" font-size="13.7">Nonsense mutation</text><rect x="176.3" y="571.9" width="5.7" height="5.7" fill="#FF99FF"/><text transform="translate(190.8 579.5) scale(1 1.03)" font-size="13.7">Nonframeshift insertion</text><rect x="176.3" y="587.6" width="5.7" height="5.7" fill="#990099"/><text transform="translate(190.8 595.2) scale(1 1.03)" font-size="13.7">Frameshift insertion</text><rect x="176.3" y="603.3" width="5.7" height="5.7" fill="#FF6600"/><text transform="translate(190.8 610.9) scale(1 1.03)" font-size="13.7">Startloss</text><rect x="176.3" y="619" width="5.7" height="5.7" fill="#000000"/><text transform="translate(190.8 626.6) scale(1 1.03)" font-size="13.7">Multi-hit</text>
<text transform="translate(353.3 579.8) scale(1 1.03)" font-size="13.7">Recurrent</text><text transform="translate(464.6 579.8) scale(1 1.03)" font-size="13.7">TMB</text><text transform="translate(543.2 579.8) scale(1 1.03)" font-size="13.7">MSI</text><rect x="372.3" y="592.8" width="5.7" height="5.7" fill="#3399FF"/><text transform="translate(387 599.7) scale(1 1.03)" font-size="13.7">Primary</text><rect x="372.3" y="608.4" width="5.7" height="5.7" fill="#CC0000"/><text transform="translate(387 615.3) scale(1 1.03)" font-size="13.7">Recurrent</text><rect x="482.8" y="592.8" width="5.7" height="5.7" fill="#9900CC"/><text transform="translate(498.3 599.7) scale(1 1.03)" font-size="13.7">High</text><rect x="482.8" y="608.4" width="5.7" height="5.7" fill="#FF99FF"/><text transform="translate(498.3 615.3) scale(1 1.03)" font-size="13.7">Low</text><rect x="559.3" y="592.8" width="5.7" height="5.7" fill="#006600"/><text transform="translate(574.5 599.7) scale(1 1.03)" font-size="13.7">MSI</text><rect x="559.3" y="608.4" width="5.7" height="5.7" fill="#99CC00"/><text transform="translate(574.5 615.3) scale(1 1.03)" font-size="13.7">MSS</text>
</svg></body></html>
